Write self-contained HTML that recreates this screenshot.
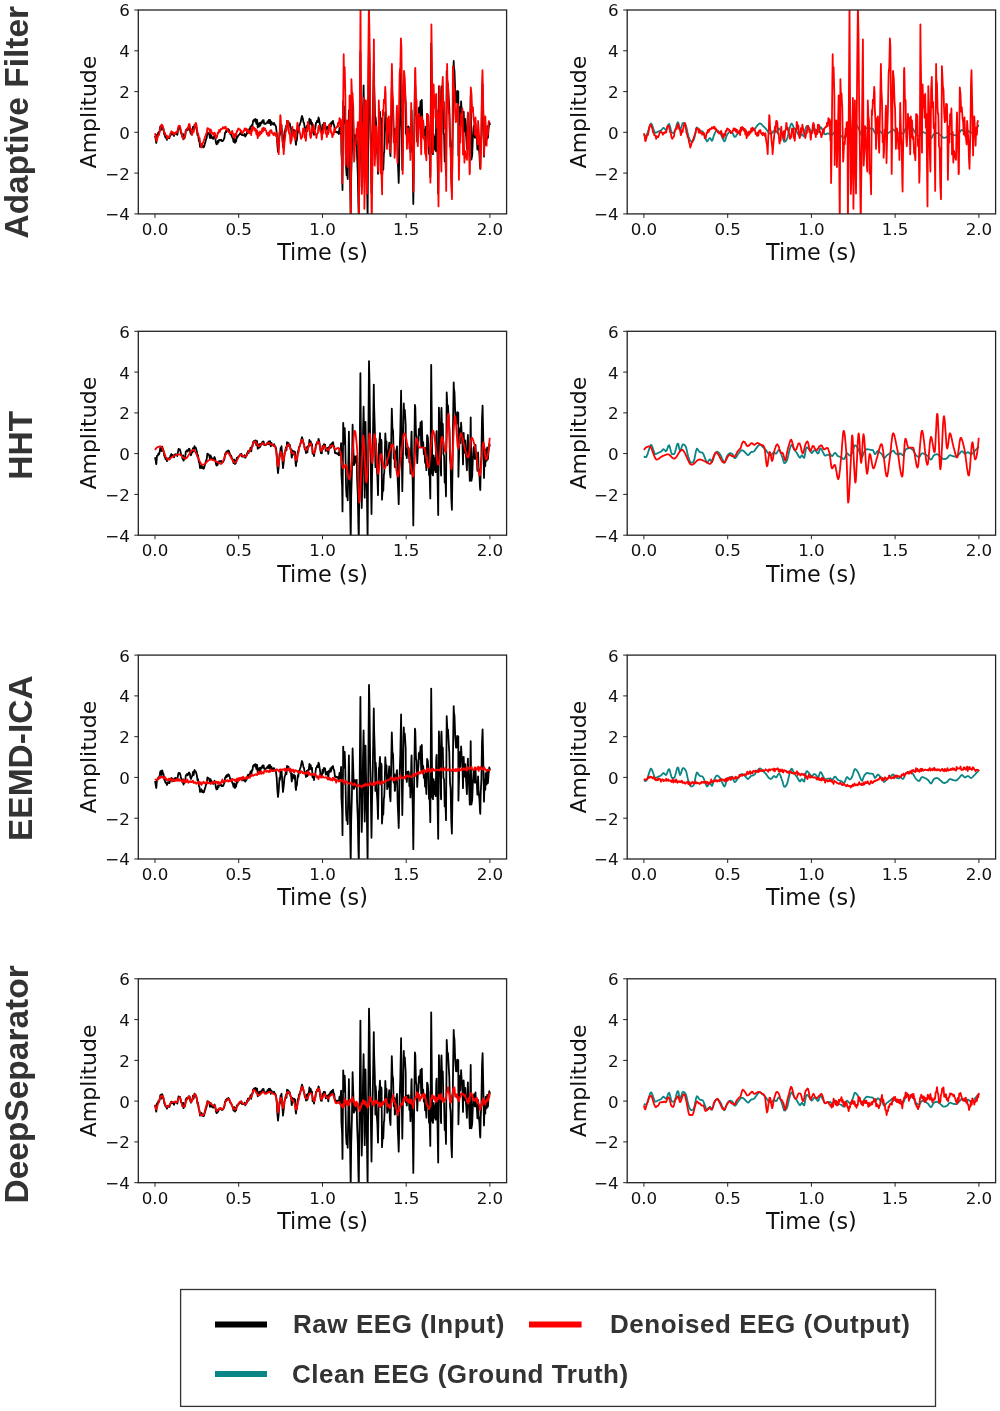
<!DOCTYPE html>
<html><head><meta charset="utf-8"><style>
html,body{margin:0;padding:0;background:#fff;}
svg{display:block;}
.tk{font-family:"DejaVu Sans",sans-serif;font-size:16.7px;fill:#111;}
.lb{font-family:"DejaVu Sans",sans-serif;font-size:22.3px;fill:#111;}
.lb2{font-family:"DejaVu Sans",sans-serif;font-size:22px;fill:#111;}
.tt{font-family:"Liberation Sans",sans-serif;font-weight:bold;font-size:33.5px;fill:#333;}
.lg{font-family:"Liberation Sans",sans-serif;font-weight:bold;font-size:26px;fill:#333;letter-spacing:0.55px;}
</style></head><body>
<svg width="1000" height="1411" viewBox="0 0 1000 1411">
<rect width="1000" height="1411" fill="#fff"/>
<defs><clipPath id="cp00"><rect x="138.3" y="10.0" width="368.3" height="203.9"/></clipPath></defs>
<g clip-path="url(#cp00)">
<polyline points="155.0,135.9 155.7,139.3 156.0,141.9 156.3,142.9 157.0,134.6 157.7,134.4 158.0,133.9 158.3,132.3 159.0,133.1 159.6,131.0 160.3,126.4 161.0,125.9 161.6,129.9 162.2,125.4 163.0,127.9 163.5,129.1 164.2,134.2 165.0,135.9 165.5,137.7 166.2,137.4 167.0,139.9 167.5,138.3 168.1,136.9 168.8,137.9 169.4,138.1 170.0,135.9 170.7,133.9 171.4,132.8 172.0,134.6 172.7,133.7 173.0,133.9 173.4,134.3 174.0,136.0 174.7,133.3 175.3,132.8 176.0,133.7 176.6,133.2 177.0,132.9 177.3,134.9 177.9,130.9 178.6,127.7 179.2,128.4 179.5,127.9 179.9,128.1 180.5,130.2 181.2,133.8 181.9,134.3 182.5,137.6 183.2,134.2 183.5,139.4 183.8,138.1 184.5,138.0 185.1,136.7 185.8,130.4 186.4,129.7 187.0,128.9 187.7,130.2 188.4,128.6 189.0,127.4 189.7,128.0 190.4,132.5 191.0,133.9 191.7,131.4 192.3,130.9 193.0,126.9 193.6,130.1 194.5,124.9 194.9,126.5 195.6,126.1 196.2,127.8 196.9,130.5 197.5,135.2 198.0,133.9 198.9,141.0 199.5,141.9 200.0,146.9 200.8,146.0 201.5,144.2 202.1,146.9 202.8,145.8 203.4,147.4 204.0,146.9 204.7,144.2 205.4,141.9 206.0,139.6 206.7,137.9 207.4,132.4 208.0,132.9 208.7,133.1 209.3,134.6 210.0,138.0 210.6,134.1 211.0,135.9 211.3,135.6 211.9,138.1 212.6,137.4 213.2,138.9 214.0,136.9 214.5,135.7 215.2,137.5 215.9,142.4 216.5,144.3 217.2,142.4 217.5,143.9 217.8,140.9 218.5,142.2 219.1,139.8 220.0,139.9 220.4,140.2 221.1,139.6 221.7,141.0 222.4,141.0 223.0,140.9 223.7,139.4 224.4,137.8 225.0,133.1 225.7,131.6 226.0,130.9 226.3,132.2 227.0,129.9 227.6,131.1 228.3,129.2 229.0,129.9 229.6,131.7 230.2,133.9 230.9,134.0 231.6,135.9 232.0,136.9 232.9,138.7 233.5,141.8 234.2,138.3 235.0,142.9 235.5,139.4 236.1,141.5 236.8,136.7 237.4,137.5 238.0,135.9 238.7,135.1 239.4,134.6 240.1,133.1 240.7,134.1 241.0,132.9 241.4,132.5 242.0,135.2 242.7,135.2 243.3,135.3 244.0,135.3 244.6,133.9 245.0,135.9 245.0,135.9 245.3,136.5 245.9,135.3 246.6,134.3 247.0,131.9 247.2,133.4 247.9,129.8 248.6,131.8 249.2,129.2 250.0,128.9 250.5,126.3 251.2,130.1 252.0,124.9 252.5,125.1 253.1,120.8 254.0,119.9 254.4,119.4 255.1,121.4 255.7,119.0 256.0,121.9 256.4,123.9 257.1,119.8 257.7,127.5 258.0,124.9 258.4,123.3 259.0,126.5 259.7,122.8 260.0,123.9 260.3,125.5 261.0,122.3 261.6,123.3 262.5,120.4 262.9,122.3 263.6,120.2 264.2,123.8 265.0,123.9 265.6,123.8 266.2,123.1 267.0,122.9 267.5,121.3 268.2,122.9 268.8,120.0 269.5,123.1 270.0,119.9 270.8,125.1 271.4,121.6 272.0,123.9 272.8,123.5 273.4,124.6 274.0,122.9 274.7,124.6 275.4,125.4 276.0,126.9 276.7,132.8 277.3,144.1 278.0,151.9 278.6,146.6 279.5,132.9 279.9,134.9 280.6,126.6 281.3,130.0 281.5,124.9 281.9,130.5 282.6,141.1 283.0,146.9 283.9,139.1 284.5,131.9 285.2,130.2 286.0,125.9 286.5,129.0 287.0,120.9 287.8,124.2 288.4,121.5 289.0,124.9 289.8,123.5 290.4,127.4 291.0,127.9 291.7,136.4 292.0,134.9 292.4,129.0 293.0,132.6 293.7,130.4 294.0,129.9 294.3,133.8 295.0,130.6 295.6,142.3 296.0,144.9 296.3,141.3 296.9,140.0 297.6,132.1 298.0,129.9 298.3,131.9 298.9,125.8 299.6,125.2 300.0,123.9 300.9,121.1 301.5,117.7 302.0,115.9 302.8,118.5 303.5,122.2 304.0,122.9 304.8,128.1 305.4,128.4 306.0,131.9 306.8,125.8 307.4,131.1 308.0,124.9 308.7,125.5 309.4,118.7 310.0,123.7 310.7,120.0 311.0,121.9 311.3,124.4 312.0,122.8 312.6,132.3 313.3,131.3 314.0,134.9 314.6,130.7 315.3,128.6 316.0,122.9 316.6,122.6 317.2,120.6 317.9,122.0 318.5,117.5 319.0,118.9 319.8,124.0 320.5,129.4 321.0,131.9 321.8,132.0 322.5,124.8 323.1,127.7 323.8,123.0 324.0,122.9 324.4,124.2 325.1,123.3 325.7,129.6 326.0,127.9 326.4,127.2 327.0,129.5 327.7,126.6 328.0,129.9 328.3,132.6 329.0,125.5 329.6,127.1 330.0,125.9 330.3,123.4 331.0,126.4 331.6,122.1 332.3,123.0 333.0,120.9 333.6,124.7 334.2,125.2 335.0,131.9 335.5,131.1 336.2,132.2 336.8,131.9 337.5,132.7 338.0,131.9 338.8,134.0 339.5,127.9 340.1,133.7 340.5,133.9 340.8,125.7 341.1,121.8 341.4,152.8 342.1,164.4 342.5,190.1 343.2,101.5 344.0,122.7 344.7,106.8 345.2,120.0 346.1,167.3 346.6,175.3 347.3,170.8 347.7,179.0 348.6,127.5 348.9,110.3 349.3,136.4 349.9,168.2 350.7,217.5 351.2,175.0 351.9,150.7 352.6,103.4 353.2,122.3 353.9,143.8 354.5,142.5 355.1,135.1 355.8,141.1 356.5,135.3 356.7,134.7 357.1,156.8 357.8,173.7 358.4,204.7 358.8,217.5 359.1,185.1 359.7,131.8 360.4,51.8 361.0,125.7 361.7,186.8 362.3,163.5 363.0,112.8 363.6,85.4 364.3,135.3 364.7,176.4 365.0,155.2 365.5,100.6 366.3,147.0 366.9,171.8 367.6,217.5 368.2,132.7 369.0,39.8 369.5,60.6 370.2,119.1 370.8,149.0 371.5,192.7 372.1,152.2 372.8,124.3 373.5,81.5 373.8,63.3 374.1,84.5 374.8,106.6 375.4,145.8 375.6,117.2 376.1,123.5 376.7,145.4 377.4,156.0 378.0,173.8 378.9,122.7 379.3,123.3 380.0,111.8 380.7,138.1 381.3,118.5 381.6,120.9 382.0,178.4 382.6,168.4 383.3,169.4 383.9,152.9 384.2,152.3 384.6,142.5 385.3,112.1 385.9,122.9 386.5,120.2 387.2,144.0 387.9,141.2 388.6,130.1 389.2,121.4 389.8,150.0 390.5,156.2 391.1,126.2 391.8,87.3 392.4,106.3 393.1,109.8 393.7,137.4 394.4,129.2 394.8,145.8 395.0,145.5 395.7,133.2 396.4,129.2 397.0,125.0 397.7,159.0 398.3,171.9 398.7,182.9 399.0,170.6 399.6,129.9 400.3,109.7 401.1,69.3 401.6,118.6 402.3,169.9 402.9,136.5 403.5,92.4 403.8,82.2 404.2,95.7 404.8,88.6 405.7,103.4 405.8,133.4 406.2,130.4 406.8,136.9 407.5,126.9 408.1,131.5 408.4,126.4 408.8,127.2 409.4,141.1 410.1,137.8 410.4,152.3 410.7,142.2 411.4,113.6 411.6,110.3 412.0,134.1 412.7,160.5 413.3,204.1 414.0,149.4 414.9,83.6 415.3,85.8 416.0,113.2 416.6,115.8 417.2,141.8 417.9,127.5 418.6,118.4 418.8,108.4 419.2,107.4 419.9,113.8 420.5,101.2 421.2,124.8 421.8,99.9 422.5,125.9 423.2,120.9 423.8,132.7 424.5,129.9 425.1,141.5 425.8,126.7 426.0,142.5 426.4,148.9 427.1,113.8 427.8,115.8 428.4,124.1 429.0,153.5 429.7,154.9 430.3,177.1 431.2,43.5 431.7,90.9 432.3,152.3 433.0,154.1 433.6,134.1 434.3,149.1 434.9,136.8 435.6,150.9 435.9,143.2 436.2,114.6 436.6,109.8 436.9,136.8 437.5,155.1 438.2,193.7 438.9,86.3 439.5,105.7 440.2,116.5 440.8,149.6 441.1,154.2 441.2,90.9 441.5,86.5 442.1,108.9 442.8,102.6 443.4,132.5 444.1,134.7 444.7,161.3 445.4,156.0 446.0,175.1 446.7,71.1 447.4,85.8 448.0,84.4 448.6,96.0 449.3,107.8 450.0,137.5 450.6,143.1 451.3,176.7 451.9,188.5 452.6,141.9 453.2,91.1 453.7,61.0 453.9,66.5 454.5,71.0 455.2,91.2 456.0,102.5 456.5,102.6 457.2,90.9 457.8,100.6 458.3,91.4 458.4,155.5 459.1,131.7 459.6,107.1 460.4,121.7 461.1,101.4 461.7,111.9 462.4,112.6 462.6,126.9 463.0,143.1 463.7,111.7 464.4,131.5 465.2,119.0 465.7,129.8 466.3,138.3 466.9,149.0 467.6,120.3 467.9,113.5 468.3,128.9 468.9,136.7 469.8,159.5 470.2,127.7 470.7,96.0 471.4,159.5 472.2,155.1 472.9,136.3 473.6,126.6 474.2,125.4 474.8,137.6 475.5,123.6 476.1,137.6 476.8,136.9 477.4,149.5 478.1,131.2 478.6,146.6 479.4,153.7 480.0,166.0 480.3,168.8 480.7,148.2 481.4,134.3 482.0,97.0 482.6,84.3 483.3,117.5 484.0,156.6 484.6,135.5 485.3,144.7 485.7,128.0 486.6,139.6 487.2,126.1 487.9,138.0 488.6,128.7 489.3,122.3 490.0,125.1" fill="none" stroke="#000" stroke-width="1.8" stroke-linejoin="round"/>
<polyline points="154.9,133.2 155.7,135.8 156.3,141.1 156.8,140.8 157.7,137.2 158.3,135.0 159.0,135.0 159.6,132.4 160.3,127.7 160.9,125.7 161.5,124.7 162.2,125.0 162.9,127.1 163.5,128.9 164.2,132.7 164.9,132.6 165.5,135.3 166.2,135.5 166.8,135.6 167.2,138.9 168.1,136.4 168.8,137.1 169.4,137.1 170.1,134.9 170.7,132.7 171.4,131.3 172.0,132.3 172.7,132.1 173.4,133.1 174.0,134.8 174.7,132.8 175.3,132.7 175.8,133.2 176.6,131.7 177.3,132.4 177.9,128.8 178.6,125.9 179.2,126.3 179.6,125.7 179.9,125.9 180.5,128.4 181.2,132.2 181.9,133.3 182.5,136.8 183.4,138.9 183.8,137.5 184.5,137.3 185.1,136.1 185.8,130.7 186.4,130.0 187.1,128.5 187.7,128.9 188.4,126.2 189.1,123.8 189.7,124.8 190.4,129.4 191.0,129.0 191.7,133.4 191.9,135.2 192.3,134.2 193.0,130.1 193.6,132.2 194.3,128.5 194.9,125.8 195.7,122.8 196.2,123.6 196.9,127.3 197.5,132.8 198.2,134.1 198.9,137.6 199.5,137.6 200.2,142.5 200.8,144.1 201.4,147.5 202.1,145.5 202.8,142.7 203.4,142.2 204.1,139.8 204.7,137.9 205.4,136.1 206.0,134.2 206.7,132.9 207.4,128.2 208.1,128.5 208.7,128.6 209.3,129.8 210.0,132.8 210.6,129.4 211.3,130.8 211.9,133.3 212.6,133.1 213.2,134.7 213.8,133.2 214.5,132.6 215.2,134.1 215.9,138.3 216.6,138.0 217.2,135.9 217.8,132.7 218.5,133.0 219.1,130.0 219.5,130.4 219.8,131.9 220.4,129.9 221.1,128.7 221.7,129.4 222.4,128.7 223.1,127.1 223.7,128.3 224.4,128.3 225.2,126.6 225.7,127.0 226.3,129.5 227.0,128.7 227.6,130.9 228.3,130.5 229.0,132.3 229.6,132.8 230.2,133.5 230.9,132.5 231.6,133.0 232.2,130.8 232.8,133.2 233.5,136.7 234.2,134.2 234.7,138.0 235.5,133.9 236.1,135.4 236.8,131.0 237.4,131.3 238.1,128.8 238.5,128.5 238.7,128.7 239.4,129.5 240.1,129.4 240.7,131.5 241.4,130.8 242.0,133.3 242.3,132.3 242.7,132.8 243.3,131.9 244.0,130.7 244.6,128.4 245.3,130.3 246.1,128.5 246.6,130.5 247.2,131.9 247.9,129.5 248.6,133.1 249.2,131.9 249.9,133.2 250.5,130.6 251.2,135.1 251.8,127.6 252.5,130.8 253.1,126.9 253.7,127.5 254.4,128.0 255.1,130.9 255.7,128.8 256.4,134.5 257.1,130.3 257.5,135.2 257.7,138.2 258.4,132.7 259.0,135.9 259.7,131.6 260.3,134.6 261.0,131.3 261.3,131.4 261.6,133.0 262.3,128.3 262.9,131.5 263.6,127.7 264.2,130.2 265.1,128.5 265.6,129.8 266.2,131.0 266.9,134.2 267.5,133.1 267.9,135.2 268.2,135.9 268.8,132.5 269.5,135.5 270.1,130.7 270.8,130.4 271.4,130.2 272.1,133.2 272.8,133.7 273.6,135.2 274.1,132.7 274.7,134.7 275.4,133.7 276.0,136.2 276.5,133.2 277.3,141.9 278.0,144.3 278.7,154.2 279.3,139.0 279.9,127.4 280.3,115.2 280.6,116.5 281.3,129.6 281.9,131.3 282.2,134.2 282.6,140.1 283.2,146.4 283.7,154.2 284.5,142.3 285.2,137.2 286.0,126.6 286.5,131.0 287.1,121.2 287.9,120.9 288.4,123.1 289.1,133.6 289.8,133.3 290.4,141.8 290.7,143.7 291.1,141.0 291.7,140.5 292.4,126.6 292.6,130.4 293.0,132.0 293.7,133.6 294.3,137.7 295.0,131.1 295.5,139.9 296.3,130.8 296.9,128.8 297.4,122.8 297.6,123.0 298.3,129.6 298.9,127.9 299.6,132.2 300.2,133.5 300.9,138.5 301.2,138.9 301.5,136.8 302.2,137.3 303.1,128.5 303.5,131.6 304.1,128.6 304.8,137.8 305.4,137.7 305.9,140.8 306.8,128.6 307.4,130.3 307.8,121.8 308.1,122.5 308.7,128.5 309.4,125.5 310.0,135.3 310.7,138.0 311.3,135.9 312.0,128.1 312.6,132.3 313.5,124.7 313.9,127.9 314.6,129.2 315.3,134.2 315.9,133.9 316.4,138.0 317.2,133.5 317.9,133.2 318.5,126.4 319.2,125.7 319.8,128.0 320.5,132.1 321.1,131.4 321.8,139.6 322.1,138.0 322.5,132.4 323.1,133.2 323.8,125.9 324.3,122.8 325.1,124.6 325.7,133.4 326.4,133.4 326.8,137.1 327.7,130.0 328.3,134.0 329.0,124.9 329.6,124.7 330.3,125.4 331.0,132.6 331.6,132.0 332.3,137.0 332.5,137.1 332.9,134.2 333.6,134.6 334.2,129.3 334.9,132.0 335.3,128.5 336.2,127.8 336.8,126.7 337.5,126.9 338.1,122.6 338.8,126.0 339.5,118.1 340.1,123.1 340.8,119.3 341.4,140.3 341.6,121.1 342.1,183.1 342.7,144.9 343.4,82.6 343.7,54.2 344.0,78.8 344.7,67.1 345.4,96.9 345.7,165.0 346.0,145.0 346.6,143.5 347.2,120.3 347.9,167.0 348.6,138.8 349.3,117.0 349.6,95.4 349.9,120.0 350.6,196.1 350.8,224.1 351.4,79.1 351.9,92.3 352.5,93.2 353.3,108.1 353.8,140.5 354.1,161.7 354.5,157.8 355.1,142.3 355.8,144.1 356.6,128.7 357.1,136.4 357.8,122.4 358.5,122.1 358.9,224.1 359.7,126.5 360.5,3.9 361.0,91.1 361.8,193.9 362.3,181.6 363.0,131.4 363.6,114.9 363.9,97.9 364.4,208.8 365.0,177.2 365.6,120.9 365.9,100.5 366.3,133.0 367.0,193.5 367.6,148.0 368.2,67.0 368.9,3.9 369.5,34.1 370.2,108.2 370.8,145.4 371.5,207.7 371.8,224.1 372.1,190.4 372.8,145.1 373.5,80.7 373.9,39.4 374.7,165.6 375.4,150.4 376.2,126.2 376.7,140.0 377.4,148.0 378.0,168.1 378.3,171.5 378.8,100.5 379.3,116.0 380.0,120.4 380.7,173.5 381.3,167.3 382.1,194.3 382.8,110.1 383.3,115.1 383.9,99.6 384.6,103.0 385.2,86.9 385.6,92.8 385.9,108.3 386.5,121.6 387.0,148.9 387.8,118.3 388.5,133.0 388.9,116.4 389.8,145.4 390.2,152.7 391.1,108.4 391.9,64.0 392.4,90.4 393.1,100.8 393.7,142.2 394.4,137.5 394.6,157.8 395.0,152.0 395.7,129.8 396.3,128.4 396.7,110.9 397.0,105.7 397.5,163.1 398.3,130.9 399.0,111.3 399.6,74.4 400.0,68.7 400.3,69.0 400.9,38.5 401.4,46.7 402.2,119.3 402.7,173.9 403.5,102.9 404.0,70.8 404.8,78.5 405.5,100.9 406.1,108.7 406.9,148.9 407.5,136.2 408.0,128.3 408.8,133.3 409.4,148.6 410.1,142.0 410.4,159.9 410.7,139.7 411.2,103.0 412.0,135.5 412.7,146.8 413.3,181.3 413.6,191.5 414.0,156.2 414.7,121.3 415.0,71.2 415.3,67.9 416.0,100.0 416.6,100.2 417.3,136.4 417.8,146.2 418.6,131.7 419.0,113.8 419.9,127.9 420.5,117.9 421.2,154.3 421.4,145.0 421.8,116.4 422.5,137.2 423.0,120.3 423.8,138.9 424.5,136.8 425.1,153.3 425.9,155.4 426.4,160.3 427.1,114.1 427.8,114.6 428.4,116.6 429.0,146.1 429.7,139.6 430.4,182.7 430.7,168.8 431.0,108.6 431.4,24.5 431.7,46.4 432.3,94.5 433.0,152.7 433.2,102.4 433.6,84.3 434.3,107.5 434.9,95.6 435.6,117.6 436.2,93.8 436.9,127.8 437.4,113.8 438.2,183.4 438.5,206.4 438.9,155.9 439.3,86.1 440.2,109.7 440.8,153.1 441.4,171.5 442.1,90.3 442.8,76.9 443.4,107.3 444.1,102.1 444.7,128.2 445.4,124.2 446.2,190.9 446.7,114.2 447.1,64.0 447.4,78.8 448.0,83.8 448.7,109.1 448.9,113.8 449.3,113.7 450.0,146.3 450.6,147.8 451.3,185.6 452.0,199.2 452.6,120.5 452.9,66.1 453.2,72.2 453.9,86.6 454.5,89.8 455.2,113.4 455.8,122.1 456.5,120.1 457.2,103.8 458.0,104.4 458.5,138.0 458.9,179.8 459.8,132.7 460.0,126.2 460.4,142.5 461.1,114.1 461.7,125.2 462.4,108.4 462.8,123.2 463.0,154.6 463.4,146.2 463.7,132.0 464.4,162.6 465.0,150.8 465.7,157.5 466.3,156.1 467.0,159.9 467.6,125.9 468.0,112.4 468.3,129.9 468.9,140.1 469.6,174.2 469.9,172.7 470.2,140.1 470.8,87.5 471.5,94.3 472.2,111.6 472.9,107.2 473.5,117.4 474.1,122.1 474.8,134.4 475.5,117.3 476.1,136.0 476.8,135.8 477.6,144.4 478.1,121.0 478.7,130.3 479.4,140.6 480.0,159.6 480.5,168.8 481.4,132.5 482.0,83.3 482.5,70.2 483.3,109.0 484.1,155.4 484.6,124.2 485.3,116.4 485.9,129.9 486.6,145.6 487.2,127.6 487.9,134.8 488.6,122.5 489.0,120.3" fill="none" stroke="#f00" stroke-width="1.8" stroke-linejoin="round"/>
</g>
<rect x="138.3" y="10.0" width="368.3" height="203.9" fill="none" stroke="#222" stroke-width="1.3"/>
<line x1="134.3" y1="213.9" x2="138.3" y2="213.9" stroke="#222" stroke-width="1"/>
<text x="129.8" y="220.3" text-anchor="end" class="tk">−4</text>
<line x1="134.3" y1="173.1" x2="138.3" y2="173.1" stroke="#222" stroke-width="1"/>
<text x="129.8" y="179.5" text-anchor="end" class="tk">−2</text>
<line x1="134.3" y1="132.3" x2="138.3" y2="132.3" stroke="#222" stroke-width="1"/>
<text x="129.8" y="138.7" text-anchor="end" class="tk">0</text>
<line x1="134.3" y1="91.6" x2="138.3" y2="91.6" stroke="#222" stroke-width="1"/>
<text x="129.8" y="98.0" text-anchor="end" class="tk">2</text>
<line x1="134.3" y1="50.8" x2="138.3" y2="50.8" stroke="#222" stroke-width="1"/>
<text x="129.8" y="57.2" text-anchor="end" class="tk">4</text>
<line x1="134.3" y1="10.0" x2="138.3" y2="10.0" stroke="#222" stroke-width="1"/>
<text x="129.8" y="16.4" text-anchor="end" class="tk">6</text>
<line x1="155.0" y1="213.9" x2="155.0" y2="217.9" stroke="#222" stroke-width="1"/>
<text x="155.0" y="234.9" text-anchor="middle" class="tk">0.0</text>
<line x1="238.7" y1="213.9" x2="238.7" y2="217.9" stroke="#222" stroke-width="1"/>
<text x="238.7" y="234.9" text-anchor="middle" class="tk">0.5</text>
<line x1="322.5" y1="213.9" x2="322.5" y2="217.9" stroke="#222" stroke-width="1"/>
<text x="322.5" y="234.9" text-anchor="middle" class="tk">1.0</text>
<line x1="406.2" y1="213.9" x2="406.2" y2="217.9" stroke="#222" stroke-width="1"/>
<text x="406.2" y="234.9" text-anchor="middle" class="tk">1.5</text>
<line x1="489.9" y1="213.9" x2="489.9" y2="217.9" stroke="#222" stroke-width="1"/>
<text x="489.9" y="234.9" text-anchor="middle" class="tk">2.0</text>
<text x="322.5" y="260.3" text-anchor="middle" class="lb">Time (s)</text>
<text transform="translate(96.3,112.0) rotate(-90)" text-anchor="middle" class="lb2">Amplitude</text>
<defs><clipPath id="cp01"><rect x="627.2" y="10.0" width="368.4" height="203.9"/></clipPath></defs>
<g clip-path="url(#cp01)">
<polyline points="644.0,134.9 644.8,135.7 645.7,135.9 646.5,135.4 647.4,133.4 648.2,130.7 649.0,128.3 649.9,125.5 650.7,123.6 651.5,123.9 652.4,125.8 653.2,128.2 654.1,130.7 654.9,132.9 655.7,132.8 656.6,132.4 657.4,131.9 658.3,131.5 659.1,131.2 659.9,130.9 660.8,130.5 661.6,129.8 662.5,128.7 663.3,127.9 664.1,128.2 665.0,129.2 665.8,129.9 666.7,129.2 667.5,126.9 668.3,124.6 669.2,124.0 670.0,126.3 670.9,130.0 671.7,132.6 672.5,132.9 673.4,132.9 674.2,132.8 675.0,131.0 675.9,127.9 676.7,124.5 677.6,122.3 678.4,122.8 679.2,127.4 680.1,129.9 680.9,128.3 681.8,125.5 682.6,123.2 683.4,123.0 684.3,123.5 685.1,124.4 686.0,125.8 686.8,128.9 687.6,132.8 688.5,136.3 689.3,138.7 690.2,140.5 691.0,141.4 691.8,141.3 692.7,140.9 693.5,140.4 694.4,138.1 695.2,133.9 696.0,129.7 696.9,127.4 697.7,127.9 698.5,129.1 699.4,130.4 700.2,131.0 701.1,131.1 701.9,131.2 702.7,131.6 703.6,133.1 704.4,135.4 705.3,137.6 706.1,140.0 706.9,141.4 707.8,140.8 708.6,139.4 709.5,138.2 710.3,138.1 711.1,139.7 712.0,140.9 712.8,139.1 713.7,135.9 714.5,133.9 715.3,132.2 716.2,130.9 717.0,130.4 717.8,130.7 718.7,131.4 719.5,132.3 720.4,133.5 721.2,135.2 722.0,137.0 722.9,138.9 723.7,140.7 724.6,141.4 725.4,139.8 726.2,136.9 727.1,134.8 727.9,133.6 728.8,132.6 729.6,132.0 730.4,131.9 731.3,132.2 732.1,132.6 733.0,133.6 733.8,135.9 734.6,136.9 735.5,136.7 736.3,135.6 737.2,134.2 738.0,132.9 738.8,131.9 739.7,130.7 740.5,129.8 741.3,129.1 742.2,128.9 743.0,129.3 743.9,129.9 744.7,130.7 745.5,131.5 746.4,132.5 747.2,133.5 748.1,133.9 748.9,133.3 749.7,132.3 750.6,131.2 751.4,130.7 752.3,130.5 753.1,130.3 753.9,129.9 754.8,129.2 755.6,127.9 756.5,126.6 757.3,125.6 758.1,124.6 759.0,123.8 759.8,123.4 760.7,123.6 761.5,124.3 762.3,125.2 763.2,126.1 764.0,126.8 764.8,127.7 765.7,128.5 766.5,129.6 767.4,130.9 768.2,132.1 769.0,132.9 769.9,133.5 770.7,133.9 771.6,133.6 772.4,132.5 773.2,131.4 774.1,130.9 774.9,131.6 775.8,132.3 776.6,132.0 777.4,130.5 778.3,129.0 779.1,128.4 780.0,129.4 780.8,131.5 781.6,133.9 782.5,136.3 783.3,139.4 784.1,141.6 785.0,141.7 785.8,140.9 786.7,139.5 787.5,137.5 788.3,133.9 789.2,130.0 790.0,127.0 790.9,124.3 791.7,123.5 792.5,124.7 793.4,126.7 794.2,128.2 795.1,129.4 795.9,130.5 796.7,131.5 797.6,132.9 798.4,134.5 799.3,135.9 800.1,136.4 800.9,135.3 801.8,134.0 802.6,134.6 803.5,136.3 804.3,136.5 805.1,132.2 806.0,127.2 806.8,126.0 807.6,126.5 808.5,127.4 809.3,128.3 810.2,129.7 811.0,131.1 811.8,131.9 812.7,131.1 813.5,129.3 814.4,128.9 815.2,129.3 816.0,129.9 816.9,131.1 817.7,132.3 818.6,131.7 819.4,129.2 820.2,127.1 821.1,127.3 821.9,128.7 822.8,130.5 823.6,132.1 824.4,133.9 825.3,134.4 826.1,134.1 827.0,133.7 827.8,133.4 828.6,133.6 829.5,133.9 830.3,133.0 831.1,134.1 832.0,134.9 832.8,134.3 833.7,132.9 834.5,131.7 835.3,131.5 836.2,132.5 837.0,133.8 837.9,134.8 838.7,135.2 839.5,135.4 840.4,135.7 841.2,136.0 842.1,136.7 842.9,137.4 843.7,137.9 844.6,137.3 845.4,135.2 846.3,132.8 847.1,131.9 847.9,132.5 848.8,133.5 849.6,134.3 850.4,134.2 851.3,133.1 852.1,131.7 853.0,129.2 853.8,126.2 854.6,124.1 855.5,124.0 856.3,124.8 857.2,125.9 858.0,127.2 858.8,129.1 859.7,131.2 860.5,133.2 861.4,135.2 862.2,135.8 863.0,133.6 863.9,131.1 864.7,129.9 865.6,128.8 866.4,128.1 867.2,127.9 868.1,128.0 868.9,128.2 869.8,128.4 870.6,128.5 871.4,128.6 872.3,128.7 873.1,129.0 873.9,130.8 874.8,132.8 875.6,132.5 876.5,131.2 877.3,129.9 878.1,129.4 879.0,130.2 879.8,131.2 880.7,131.9 881.5,132.4 882.3,133.5 883.2,135.6 884.0,136.9 884.9,136.4 885.7,135.4 886.5,134.4 887.4,133.6 888.2,133.1 889.1,132.5 889.9,132.0 890.7,131.2 891.6,130.3 892.4,129.6 893.3,129.4 894.1,130.2 894.9,131.3 895.8,132.2 896.6,132.7 897.4,133.1 898.3,133.3 899.1,133.3 900.0,131.9 900.8,132.3 901.6,133.0 902.5,133.7 903.3,133.7 904.2,132.0 905.0,129.7 905.8,128.0 906.7,127.6 907.5,127.3 908.4,127.1 909.2,126.9 910.0,126.9 910.9,127.1 911.7,127.7 912.6,128.5 913.4,129.4 914.2,130.9 915.1,132.5 915.9,133.8 916.8,134.6 917.6,135.3 918.4,135.8 919.3,135.8 920.1,134.7 920.9,133.0 921.8,132.0 922.6,132.0 923.5,132.2 924.3,132.6 925.1,133.0 926.0,133.4 926.8,134.0 927.7,134.6 928.5,135.4 929.3,136.7 930.2,137.9 931.0,138.4 931.9,137.6 932.7,135.9 933.5,134.4 934.4,133.7 935.2,133.3 936.1,133.0 936.9,132.9 937.7,133.1 938.6,133.7 939.4,134.4 940.2,135.1 941.1,135.8 941.9,136.7 942.8,137.4 943.6,137.8 944.4,137.9 945.3,137.7 946.1,137.3 947.0,136.9 947.8,136.2 948.6,135.0 949.5,134.1 950.3,133.9 951.2,134.2 952.0,134.5 952.8,134.9 953.7,135.1 954.5,135.2 955.4,135.4 956.2,135.4 957.0,134.9 957.9,134.1 958.7,133.2 959.6,132.3 960.4,131.2 961.2,130.3 962.1,129.9 962.9,130.4 963.7,131.5 964.6,132.3 965.4,132.3 966.3,131.8 967.1,131.2 967.9,130.9 968.8,131.2 969.6,132.0 970.5,132.7 971.3,132.9 972.1,132.3 973.0,131.5 973.8,130.6 974.7,129.8 975.5,128.9 976.3,128.0 977.2,127.1 978.0,126.1 978.9,125.1" fill="none" stroke="#0a8585" stroke-width="1.8" stroke-linejoin="round"/>
<polyline points="643.8,133.2 644.6,135.8 645.3,141.1 645.7,140.8 646.6,137.2 647.2,135.0 647.9,135.0 648.5,132.4 649.2,127.7 649.8,125.7 650.4,124.7 651.1,125.0 651.8,127.1 652.4,128.9 653.1,132.7 653.8,132.6 654.4,135.3 655.1,135.5 655.7,135.6 656.1,138.9 657.0,136.4 657.7,137.1 658.3,137.1 659.0,134.9 659.6,132.7 660.3,131.3 660.9,132.3 661.6,132.1 662.3,133.1 662.9,134.8 663.6,132.8 664.2,132.7 664.7,133.2 665.5,131.7 666.2,132.4 666.8,128.8 667.5,125.9 668.1,126.3 668.5,125.7 668.8,125.9 669.5,128.4 670.1,132.2 670.8,133.3 671.4,136.8 672.3,138.9 672.7,137.5 673.4,137.3 674.0,136.1 674.7,130.7 675.3,130.0 676.0,128.5 676.7,128.9 677.3,126.2 678.0,123.8 678.6,124.8 679.3,129.4 679.9,129.0 680.6,133.4 680.8,135.2 681.2,134.2 681.9,130.1 682.5,132.2 683.2,128.5 683.8,125.8 684.6,122.8 685.2,123.6 685.8,127.3 686.5,132.8 687.1,134.1 687.8,137.6 688.4,137.6 689.1,142.5 689.7,144.1 690.3,147.5 691.0,145.5 691.7,142.7 692.4,142.2 693.0,139.8 693.7,137.9 694.3,136.1 695.0,134.2 695.6,132.9 696.3,128.2 697.0,128.5 697.6,128.6 698.2,129.8 698.9,132.8 699.5,129.4 700.2,130.8 700.9,133.3 701.5,133.1 702.2,134.7 702.7,133.2 703.5,132.6 704.1,134.1 704.8,138.3 705.5,138.0 706.1,135.9 706.7,132.7 707.4,133.0 708.0,130.0 708.4,130.4 708.7,131.9 709.4,129.9 710.0,128.7 710.7,129.4 711.3,128.7 712.0,127.1 712.6,128.3 713.3,128.3 714.1,126.6 714.6,127.0 715.2,129.5 715.9,128.7 716.6,130.9 717.2,130.5 717.9,132.3 718.5,132.8 719.2,133.5 719.8,132.5 720.5,133.0 721.1,130.8 721.7,133.2 722.4,136.7 723.1,134.2 723.6,138.0 724.4,133.9 725.1,135.4 725.7,131.0 726.4,131.3 727.0,128.8 727.4,128.5 727.7,128.7 728.3,129.5 729.0,129.4 729.6,131.5 730.3,130.8 730.9,133.3 731.2,132.3 731.6,132.8 732.3,131.9 732.9,130.7 733.6,128.4 734.2,130.3 735.0,128.5 735.5,130.5 736.2,131.9 736.8,129.5 737.5,133.1 738.1,131.9 738.8,133.2 739.4,130.6 740.1,135.1 740.8,127.6 741.4,130.8 742.1,126.9 742.6,127.5 743.4,128.0 744.0,130.9 744.7,128.8 745.3,134.5 746.0,130.3 746.4,135.2 746.6,138.2 747.3,132.7 748.0,135.9 748.6,131.6 749.3,134.6 749.9,131.3 750.2,131.4 750.6,133.0 751.2,128.3 751.9,131.5 752.5,127.7 753.2,130.2 754.0,128.5 754.5,129.8 755.1,131.0 755.8,134.2 756.5,133.1 756.8,135.2 757.1,135.9 757.8,132.5 758.4,135.5 759.1,130.7 759.7,130.4 760.4,130.2 761.0,133.2 761.7,133.7 762.5,135.2 763.0,132.7 763.6,134.7 764.3,133.7 765.0,136.2 765.4,133.2 766.3,141.9 766.9,144.3 767.7,154.2 768.2,139.0 768.9,127.4 769.2,115.2 769.5,116.5 770.2,129.6 770.8,131.3 771.1,134.2 771.5,140.1 772.2,146.4 772.6,154.2 773.5,142.3 774.1,137.2 774.9,126.6 775.4,131.0 776.1,121.2 776.8,120.9 777.4,123.1 778.0,133.6 778.7,133.3 779.3,141.8 779.6,143.7 780.0,141.0 780.7,140.5 781.3,126.6 781.5,130.4 782.0,132.0 782.6,133.6 783.3,137.7 783.9,131.1 784.4,139.9 785.2,130.8 785.9,128.8 786.3,122.8 786.5,123.0 787.2,129.6 787.9,127.9 788.5,132.2 789.2,133.5 789.8,138.5 790.1,138.9 790.5,136.8 791.1,137.3 792.0,128.5 792.4,131.6 793.1,128.6 793.7,137.8 794.4,137.7 794.8,140.8 795.7,128.6 796.4,130.3 796.7,121.8 797.0,122.5 797.7,128.5 798.3,125.5 799.0,135.3 799.6,138.0 800.3,135.9 800.9,128.1 801.6,132.3 802.4,124.7 802.9,127.9 803.6,129.2 804.2,134.2 804.9,133.9 805.3,138.0 806.2,133.5 806.8,133.2 807.5,126.4 808.1,125.7 808.8,128.0 809.4,132.1 810.1,131.4 810.7,139.6 811.0,138.0 811.4,132.4 812.1,133.2 812.7,125.9 813.3,122.8 814.0,124.6 814.7,133.4 815.3,133.4 815.8,137.1 816.6,130.0 817.3,134.0 817.9,124.9 818.6,124.7 819.2,125.4 819.9,132.6 820.6,132.0 821.2,137.0 821.5,137.1 821.9,134.2 822.5,134.6 823.2,129.3 823.8,132.0 824.3,128.5 825.1,127.8 825.8,126.7 826.4,126.9 827.1,122.6 827.8,126.0 828.4,118.1 829.1,123.1 829.7,119.3 830.4,140.3 830.6,121.1 831.1,183.1 831.7,144.9 832.3,82.6 832.7,54.2 833.0,78.8 833.6,67.1 834.4,96.9 834.7,165.0 834.9,145.0 835.6,143.5 836.2,120.3 836.9,167.0 837.6,138.8 838.2,117.0 838.6,95.4 838.9,120.0 839.5,196.1 839.8,224.1 840.4,79.1 840.8,92.3 841.5,93.2 842.3,108.1 842.8,140.5 843.1,161.7 843.5,157.8 844.1,142.3 844.8,144.1 845.6,128.7 846.1,136.4 846.7,122.4 847.5,122.1 847.9,224.1 848.7,126.5 849.5,3.9 850.0,91.1 850.8,193.9 851.3,181.6 852.0,131.4 852.6,114.9 852.9,97.9 853.4,208.8 853.9,177.2 854.6,120.9 854.9,100.5 855.2,133.0 856.0,193.5 856.5,148.0 857.2,67.0 857.9,3.9 858.5,34.1 859.2,108.2 859.8,145.4 860.5,207.7 860.8,224.1 861.1,190.4 861.8,145.1 862.4,80.7 862.9,39.4 863.7,165.6 864.4,150.4 865.2,126.2 865.7,140.0 866.3,148.0 867.0,168.1 867.3,171.5 867.8,100.5 868.3,116.0 869.0,120.4 869.6,173.5 870.3,167.3 871.1,194.3 871.8,110.1 872.2,115.1 872.9,99.6 873.5,103.0 874.2,86.9 874.6,92.8 874.8,108.3 875.5,121.6 876.0,148.9 876.8,118.3 877.5,133.0 877.9,116.4 878.8,145.4 879.2,152.7 880.1,108.4 880.9,64.0 881.4,90.4 882.0,100.8 882.7,142.2 883.4,137.5 883.6,157.8 884.0,152.0 884.7,129.8 885.3,128.4 885.7,110.9 886.0,105.7 886.5,163.1 887.3,130.9 887.9,111.3 888.6,74.4 889.0,68.7 889.2,69.0 889.9,38.5 890.4,46.7 891.2,119.3 891.7,173.9 892.5,102.9 893.0,70.8 893.8,78.5 894.5,100.9 895.1,108.7 895.9,148.9 896.4,136.2 897.0,128.3 897.7,133.3 898.4,148.6 899.1,142.0 899.4,159.9 899.7,139.7 900.2,103.0 901.0,135.5 901.7,146.8 902.3,181.3 902.6,191.5 903.0,156.2 903.6,121.3 904.0,71.2 904.3,67.9 904.9,100.0 905.6,100.2 906.2,136.4 906.8,146.2 907.6,131.7 908.0,113.8 908.9,127.9 909.5,117.9 910.2,154.3 910.4,145.0 910.8,116.4 911.5,137.2 912.0,120.3 912.8,138.9 913.4,136.8 914.1,153.3 914.9,155.4 915.4,160.3 916.1,114.1 916.8,114.6 917.4,116.6 918.0,146.1 918.7,139.6 919.3,182.7 919.7,168.8 920.0,108.6 920.4,24.5 920.6,46.4 921.3,94.5 922.0,152.7 922.2,102.4 922.6,84.3 923.3,107.5 923.9,95.6 924.6,117.6 925.2,93.8 925.9,127.8 926.4,113.8 927.2,183.4 927.5,206.4 927.8,155.9 928.3,86.1 929.1,109.7 929.8,153.1 930.4,171.5 931.1,90.3 931.8,76.9 932.4,107.3 933.1,102.1 933.7,128.2 934.4,124.2 935.2,190.9 935.7,114.2 936.1,64.0 936.3,78.8 937.0,83.8 937.6,109.1 937.9,113.8 938.3,113.7 939.0,146.3 939.6,147.8 940.3,185.6 941.0,199.2 941.6,120.5 941.9,66.1 942.2,72.2 942.9,86.6 943.5,89.8 944.2,113.4 944.8,122.1 945.5,120.1 946.1,103.8 947.0,104.4 947.5,138.0 947.9,179.8 948.8,132.7 949.0,126.2 949.4,142.5 950.1,114.1 950.7,125.2 951.4,108.4 951.8,123.2 952.0,154.6 952.4,146.2 952.7,132.0 953.3,162.6 954.0,150.8 954.7,157.5 955.3,156.1 956.0,159.9 956.6,125.9 957.0,112.4 957.3,129.9 957.9,140.1 958.6,174.2 958.9,172.7 959.2,140.1 959.8,87.5 960.5,94.3 961.2,111.6 961.8,107.2 962.5,117.4 963.1,122.1 963.8,134.4 964.5,117.3 965.1,136.0 965.8,135.8 966.6,144.4 967.1,121.0 967.7,130.3 968.4,140.6 969.0,159.6 969.5,168.8 970.4,132.5 971.0,83.3 971.5,70.2 972.3,109.0 973.1,155.4 973.6,124.2 974.3,116.4 974.9,129.9 975.6,145.6 976.2,127.6 976.9,134.8 977.5,122.5 978.0,120.3" fill="none" stroke="#f00" stroke-width="1.8" stroke-linejoin="round"/>
</g>
<rect x="627.2" y="10.0" width="368.4" height="203.9" fill="none" stroke="#222" stroke-width="1.3"/>
<line x1="623.2" y1="213.9" x2="627.2" y2="213.9" stroke="#222" stroke-width="1"/>
<text x="618.7" y="220.3" text-anchor="end" class="tk">−4</text>
<line x1="623.2" y1="173.1" x2="627.2" y2="173.1" stroke="#222" stroke-width="1"/>
<text x="618.7" y="179.5" text-anchor="end" class="tk">−2</text>
<line x1="623.2" y1="132.3" x2="627.2" y2="132.3" stroke="#222" stroke-width="1"/>
<text x="618.7" y="138.7" text-anchor="end" class="tk">0</text>
<line x1="623.2" y1="91.6" x2="627.2" y2="91.6" stroke="#222" stroke-width="1"/>
<text x="618.7" y="98.0" text-anchor="end" class="tk">2</text>
<line x1="623.2" y1="50.8" x2="627.2" y2="50.8" stroke="#222" stroke-width="1"/>
<text x="618.7" y="57.2" text-anchor="end" class="tk">4</text>
<line x1="623.2" y1="10.0" x2="627.2" y2="10.0" stroke="#222" stroke-width="1"/>
<text x="618.7" y="16.4" text-anchor="end" class="tk">6</text>
<line x1="643.9" y1="213.9" x2="643.9" y2="217.9" stroke="#222" stroke-width="1"/>
<text x="643.9" y="234.9" text-anchor="middle" class="tk">0.0</text>
<line x1="727.7" y1="213.9" x2="727.7" y2="217.9" stroke="#222" stroke-width="1"/>
<text x="727.7" y="234.9" text-anchor="middle" class="tk">0.5</text>
<line x1="811.4" y1="213.9" x2="811.4" y2="217.9" stroke="#222" stroke-width="1"/>
<text x="811.4" y="234.9" text-anchor="middle" class="tk">1.0</text>
<line x1="895.1" y1="213.9" x2="895.1" y2="217.9" stroke="#222" stroke-width="1"/>
<text x="895.1" y="234.9" text-anchor="middle" class="tk">1.5</text>
<line x1="978.9" y1="213.9" x2="978.9" y2="217.9" stroke="#222" stroke-width="1"/>
<text x="978.9" y="234.9" text-anchor="middle" class="tk">2.0</text>
<text x="811.4" y="260.3" text-anchor="middle" class="lb">Time (s)</text>
<text transform="translate(586.0,112.0) rotate(-90)" text-anchor="middle" class="lb2">Amplitude</text>
<defs><clipPath id="cp10"><rect x="138.3" y="331.3" width="368.3" height="203.9"/></clipPath></defs>
<g clip-path="url(#cp10)">
<polyline points="155.0,457.2 155.7,460.6 156.0,463.2 156.3,464.2 157.0,455.9 157.7,455.7 158.0,455.2 158.3,453.6 159.0,454.4 159.6,452.3 160.3,447.7 161.0,447.2 161.6,451.2 162.2,446.7 163.0,449.2 163.5,450.4 164.2,455.5 165.0,457.2 165.5,459.0 166.2,458.7 167.0,461.2 167.5,459.6 168.1,458.2 168.8,459.2 169.4,459.4 170.0,457.2 170.7,455.2 171.4,454.1 172.0,455.9 172.7,455.0 173.0,455.2 173.4,455.6 174.0,457.3 174.7,454.6 175.3,454.1 176.0,455.0 176.6,454.5 177.0,454.2 177.3,456.2 177.9,452.2 178.6,449.0 179.2,449.7 179.5,449.2 179.9,449.4 180.5,451.5 181.2,455.1 181.9,455.6 182.5,458.9 183.2,455.5 183.5,460.7 183.8,459.4 184.5,459.3 185.1,458.0 185.8,451.7 186.4,451.0 187.0,450.2 187.7,451.5 188.4,449.9 189.0,448.7 189.7,449.3 190.4,453.8 191.0,455.2 191.7,452.7 192.3,452.2 193.0,448.2 193.6,451.4 194.5,446.2 194.9,447.8 195.6,447.4 196.2,449.1 196.9,451.8 197.5,456.5 198.0,455.2 198.9,462.3 199.5,463.2 200.0,468.2 200.8,467.3 201.5,465.5 202.1,468.2 202.8,467.1 203.4,468.7 204.0,468.2 204.7,465.5 205.4,463.2 206.0,460.9 206.7,459.2 207.4,453.7 208.0,454.2 208.7,454.4 209.3,455.9 210.0,459.3 210.6,455.4 211.0,457.2 211.3,456.9 211.9,459.4 212.6,458.7 213.2,460.2 214.0,458.2 214.5,457.0 215.2,458.8 215.9,463.7 216.5,465.6 217.2,463.7 217.5,465.2 217.8,462.2 218.5,463.5 219.1,461.1 220.0,461.2 220.4,461.5 221.1,460.9 221.7,462.3 222.4,462.3 223.0,462.2 223.7,460.7 224.4,459.1 225.0,454.4 225.7,452.9 226.0,452.2 226.3,453.5 227.0,451.2 227.6,452.4 228.3,450.5 229.0,451.2 229.6,453.0 230.2,455.2 230.9,455.3 231.6,457.2 232.0,458.2 232.9,460.0 233.5,463.1 234.2,459.6 235.0,464.2 235.5,460.7 236.1,462.8 236.8,458.0 237.4,458.8 238.0,457.2 238.7,456.4 239.4,455.9 240.1,454.4 240.7,455.4 241.0,454.2 241.4,453.8 242.0,456.5 242.7,456.5 243.3,456.6 244.0,456.6 244.6,455.2 245.0,457.2 245.0,457.2 245.3,457.8 245.9,456.6 246.6,455.6 247.0,453.2 247.2,454.7 247.9,451.1 248.6,453.1 249.2,450.5 250.0,450.2 250.5,447.6 251.2,451.4 252.0,446.2 252.5,446.4 253.1,442.1 254.0,441.2 254.4,440.7 255.1,442.7 255.7,440.3 256.0,443.2 256.4,445.2 257.1,441.1 257.7,448.8 258.0,446.2 258.4,444.6 259.0,447.8 259.7,444.1 260.0,445.2 260.3,446.8 261.0,443.6 261.6,444.6 262.5,441.7 262.9,443.6 263.6,441.5 264.2,445.1 265.0,445.2 265.6,445.1 266.2,444.4 267.0,444.2 267.5,442.6 268.2,444.2 268.8,441.3 269.5,444.4 270.0,441.2 270.8,446.4 271.4,442.9 272.0,445.2 272.8,444.8 273.4,445.9 274.0,444.2 274.7,445.9 275.4,446.7 276.0,448.2 276.7,454.1 277.3,465.4 278.0,473.2 278.6,467.9 279.5,454.2 279.9,456.2 280.6,447.9 281.3,451.3 281.5,446.2 281.9,451.8 282.6,462.4 283.0,468.2 283.9,460.4 284.5,453.2 285.2,451.5 286.0,447.2 286.5,450.3 287.0,442.2 287.8,445.5 288.4,442.8 289.0,446.2 289.8,444.8 290.4,448.7 291.0,449.2 291.7,457.7 292.0,456.2 292.4,450.3 293.0,453.9 293.7,451.7 294.0,451.2 294.3,455.1 295.0,451.9 295.6,463.6 296.0,466.2 296.3,462.6 296.9,461.3 297.6,453.4 298.0,451.2 298.3,453.2 298.9,447.1 299.6,446.5 300.0,445.2 300.9,442.4 301.5,439.0 302.0,437.2 302.8,439.8 303.5,443.5 304.0,444.2 304.8,449.4 305.4,449.7 306.0,453.2 306.8,447.1 307.4,452.4 308.0,446.2 308.7,446.8 309.4,440.0 310.0,445.0 310.7,441.3 311.0,443.2 311.3,445.7 312.0,444.1 312.6,453.6 313.3,452.6 314.0,456.2 314.6,452.0 315.3,449.9 316.0,444.2 316.6,443.9 317.2,441.9 317.9,443.3 318.5,438.8 319.0,440.2 319.8,445.3 320.5,450.7 321.0,453.2 321.8,453.3 322.5,446.1 323.1,449.0 323.8,444.3 324.0,444.2 324.4,445.5 325.1,444.6 325.7,450.9 326.0,449.2 326.4,448.5 327.0,450.8 327.7,447.9 328.0,451.2 328.3,453.9 329.0,446.8 329.6,448.4 330.0,447.2 330.3,444.7 331.0,447.7 331.6,443.4 332.3,444.3 333.0,442.2 333.6,446.0 334.2,446.5 335.0,453.2 335.5,452.4 336.2,453.5 336.8,453.2 337.5,454.0 338.0,453.2 338.8,455.3 339.5,449.2 340.1,455.0 340.5,455.2 340.8,447.0 341.1,443.1 341.4,474.1 342.1,485.7 342.5,511.4 343.2,422.8 344.0,444.0 344.7,428.1 345.2,441.3 346.1,488.6 346.6,496.6 347.3,492.1 347.7,500.3 348.6,448.8 348.9,431.6 349.3,457.7 349.9,489.5 350.7,538.8 351.2,496.3 351.9,472.0 352.6,424.7 353.2,443.6 353.9,465.1 354.5,463.8 355.1,456.4 355.8,462.4 356.5,456.6 356.7,456.0 357.1,478.1 357.8,495.0 358.4,526.0 358.8,538.8 359.1,506.4 359.7,453.1 360.4,373.1 361.0,447.0 361.7,508.1 362.3,484.8 363.0,434.1 363.6,406.7 364.3,456.6 364.7,497.7 365.0,476.5 365.5,421.9 366.3,468.3 366.9,493.1 367.6,538.8 368.2,454.0 369.0,361.1 369.5,381.9 370.2,440.4 370.8,470.3 371.5,514.0 372.1,473.5 372.8,445.6 373.5,402.8 373.8,384.6 374.1,405.8 374.8,427.9 375.4,467.1 375.6,438.5 376.1,444.8 376.7,466.7 377.4,477.3 378.0,495.1 378.9,444.0 379.3,444.6 380.0,433.1 380.7,459.4 381.3,439.8 381.6,442.2 382.0,499.7 382.6,489.7 383.3,490.7 383.9,474.2 384.2,473.6 384.6,463.8 385.3,433.4 385.9,444.2 386.5,441.5 387.2,465.3 387.9,462.5 388.6,451.4 389.2,442.7 389.8,471.3 390.5,477.5 391.1,447.5 391.8,408.6 392.4,427.6 393.1,431.1 393.7,458.7 394.4,450.5 394.8,467.1 395.0,466.8 395.7,454.5 396.4,450.5 397.0,446.3 397.7,480.3 398.3,493.2 398.7,504.2 399.0,491.9 399.6,451.2 400.3,431.0 401.1,390.6 401.6,439.9 402.3,491.2 402.9,457.8 403.5,413.7 403.8,403.5 404.2,417.0 404.8,409.9 405.7,424.7 405.8,454.7 406.2,451.7 406.8,458.2 407.5,448.2 408.1,452.8 408.4,447.7 408.8,448.5 409.4,462.4 410.1,459.1 410.4,473.6 410.7,463.5 411.4,434.9 411.6,431.6 412.0,455.4 412.7,481.8 413.3,525.4 414.0,470.7 414.9,404.9 415.3,407.1 416.0,434.5 416.6,437.1 417.2,463.1 417.9,448.8 418.6,439.7 418.8,429.7 419.2,428.7 419.9,435.1 420.5,422.5 421.2,446.1 421.8,421.2 422.5,447.2 423.2,442.2 423.8,454.0 424.5,451.2 425.1,462.8 425.8,448.0 426.0,463.8 426.4,470.2 427.1,435.1 427.8,437.1 428.4,445.4 429.0,474.8 429.7,476.2 430.3,498.4 431.2,364.8 431.7,412.2 432.3,473.6 433.0,475.4 433.6,455.4 434.3,470.4 434.9,458.1 435.6,472.2 435.9,464.5 436.2,435.9 436.6,431.1 436.9,458.1 437.5,476.4 438.2,515.0 438.9,407.6 439.5,427.0 440.2,437.8 440.8,470.9 441.1,475.5 441.2,412.2 441.5,407.8 442.1,430.2 442.8,423.9 443.4,453.8 444.1,456.0 444.7,482.6 445.4,477.3 446.0,496.4 446.7,392.4 447.4,407.1 448.0,405.7 448.6,417.3 449.3,429.1 450.0,458.8 450.6,464.4 451.3,498.0 451.9,509.8 452.6,463.2 453.2,412.4 453.7,382.3 453.9,387.8 454.5,392.3 455.2,412.5 456.0,423.8 456.5,423.9 457.2,412.2 457.8,421.9 458.3,412.7 458.4,476.8 459.1,453.0 459.6,428.4 460.4,443.0 461.1,422.7 461.7,433.2 462.4,433.9 462.6,448.2 463.0,464.4 463.7,433.0 464.4,452.8 465.2,440.3 465.7,451.1 466.3,459.6 466.9,470.3 467.6,441.6 467.9,434.8 468.3,450.2 468.9,458.0 469.8,480.8 470.2,449.0 470.7,417.3 471.4,480.8 472.2,476.4 472.9,457.6 473.6,447.9 474.2,446.7 474.8,458.9 475.5,444.9 476.1,458.9 476.8,458.2 477.4,470.8 478.1,452.5 478.6,467.9 479.4,475.0 480.0,487.3 480.3,490.1 480.7,469.5 481.4,455.6 482.0,418.3 482.6,405.6 483.3,438.8 484.0,477.9 484.6,456.8 485.3,466.0 485.7,449.3 486.6,460.9 487.2,447.4 487.9,459.3 488.6,450.0 489.3,443.6 490.0,446.4" fill="none" stroke="#000" stroke-width="1.8" stroke-linejoin="round"/>
<polyline points="155.0,449.9 155.7,448.9 156.3,448.2 157.0,447.5 157.7,447.1 158.3,446.8 159.0,446.6 159.6,446.4 160.3,446.4 160.9,446.4 161.6,446.9 162.2,448.0 162.9,449.4 163.5,451.1 164.2,452.9 164.9,454.7 165.5,456.4 166.2,457.8 166.8,458.9 167.5,459.5 168.1,459.5 168.8,459.3 169.4,459.0 170.1,458.6 170.7,458.1 171.4,457.6 172.0,457.1 172.7,456.6 173.4,456.2 174.0,455.9 174.7,455.6 175.3,455.3 176.0,455.1 176.6,454.8 177.3,454.6 177.9,454.4 178.6,454.3 179.2,454.3 179.9,454.5 180.5,454.9 181.2,455.5 181.9,456.1 182.5,456.8 183.2,457.5 183.8,458.0 184.5,458.4 185.1,458.6 185.8,458.5 186.4,458.1 187.1,457.4 187.7,456.5 188.4,455.5 189.0,454.4 189.7,453.3 190.4,452.3 191.0,451.4 191.7,450.6 192.3,450.1 193.0,449.9 193.6,450.0 194.3,450.5 194.9,451.3 195.6,452.4 196.2,453.6 196.9,455.0 197.5,456.5 198.2,458.0 198.9,459.5 199.5,460.9 200.2,462.2 200.8,463.3 201.5,464.1 202.1,464.6 202.8,464.7 203.4,464.6 204.1,464.3 204.7,463.9 205.4,463.3 206.0,462.7 206.7,462.1 207.4,461.4 208.0,460.8 208.7,460.3 209.3,459.9 210.0,459.6 210.6,459.5 211.3,459.5 211.9,459.7 212.6,459.8 213.2,460.1 213.9,460.4 214.5,460.7 215.2,461.0 215.9,461.3 216.5,461.6 217.2,461.9 217.8,462.2 218.5,462.6 219.1,463.1 219.8,463.5 220.4,463.8 221.1,463.9 221.7,463.5 222.4,462.5 223.1,461.1 223.7,459.4 224.4,457.6 225.0,455.8 225.7,454.3 226.3,453.1 227.0,452.6 227.6,452.6 228.3,453.0 228.9,453.8 229.6,454.8 230.2,456.0 230.9,457.2 231.6,458.5 232.2,459.7 232.9,460.8 233.5,461.8 234.2,462.3 234.8,462.6 235.5,462.4 236.1,461.8 236.8,460.6 237.4,459.4 238.1,458.1 238.7,456.9 239.4,455.9 240.1,455.1 240.7,454.8 241.4,454.8 242.0,455.4 242.7,455.9 243.3,456.2 244.0,456.4 244.6,456.4 245.3,456.6 245.9,456.4 246.6,455.4 247.2,454.1 247.9,452.8 248.6,451.9 249.2,450.7 249.9,450.1 250.5,449.3 251.2,449.0 251.8,447.5 252.5,445.6 253.1,443.3 253.8,442.1 254.4,441.4 255.1,441.9 255.7,442.0 256.4,443.3 257.1,444.0 257.7,445.6 258.4,445.8 259.0,446.3 259.7,445.5 260.3,445.4 261.0,444.5 261.6,444.0 262.3,443.2 262.9,443.2 263.6,443.3 264.2,444.2 264.9,444.7 265.6,444.9 266.2,444.4 266.9,444.0 267.5,443.4 268.2,443.2 268.8,442.9 269.5,443.4 270.1,443.6 270.8,444.3 271.4,444.3 272.1,444.8 272.8,444.9 273.4,445.2 274.1,445.3 274.7,446.0 275.4,447.4 276.0,450.9 276.7,456.6 277.3,463.0 278.0,466.4 278.6,465.1 279.3,460.2 279.9,455.4 280.6,452.0 281.3,452.5 281.9,455.2 282.6,459.5 283.2,461.0 283.9,459.3 284.5,455.3 285.2,452.0 285.8,449.3 286.5,447.7 287.1,445.6 287.8,444.9 288.4,444.3 289.1,445.3 289.8,446.3 290.4,448.8 291.1,450.9 291.7,452.9 292.4,452.8 293.0,453.1 293.7,452.8 294.3,454.5 295.0,456.4 295.6,459.6 296.3,460.3 296.9,459.2 297.6,455.4 298.3,452.0 298.9,448.7 299.6,446.5 300.2,444.2 300.9,442.1 301.5,440.2 302.2,439.6 302.8,440.7 303.5,443.0 304.1,445.6 304.8,448.2 305.4,449.4 306.1,450.3 306.8,449.7 307.4,449.2 308.1,447.2 308.7,445.6 309.4,443.5 310.0,443.3 310.7,443.3 311.3,445.2 312.0,447.2 312.6,450.7 313.3,452.6 313.9,453.4 314.6,451.7 315.3,449.2 315.9,446.2 316.6,444.3 317.2,442.7 317.9,441.8 318.5,441.4 319.2,442.9 319.8,445.8 320.5,449.3 321.1,451.0 321.8,450.9 322.5,448.9 323.1,447.4 323.8,445.8 324.4,446.0 325.1,446.6 325.7,448.3 326.4,449.0 327.0,450.0 327.7,449.8 328.3,450.0 329.0,448.6 329.6,447.8 330.3,446.5 331.0,446.2 331.6,445.4 332.3,445.4 332.9,445.7 333.6,447.0 334.2,448.2 334.9,449.2 335.5,449.4 336.2,449.1 336.8,448.5 337.5,448.0 338.1,447.8 338.8,448.3 339.2,449.0 339.6,449.9 339.9,450.8 340.2,451.8 340.5,452.9 340.9,454.7 341.2,457.1 341.5,459.8 341.8,462.5 342.2,465.0 342.5,466.9 342.8,468.1 343.1,468.4 343.5,468.2 343.8,467.7 344.1,467.1 344.5,466.5 344.8,465.8 345.1,465.3 345.4,464.9 345.8,464.8 346.1,465.2 346.4,466.1 346.7,467.5 347.1,469.2 347.4,471.1 347.7,473.1 348.1,475.0 348.4,476.7 348.7,478.0 349.0,478.9 349.4,479.2 349.7,478.6 350.0,477.2 350.3,475.1 350.7,472.4 351.0,469.4 351.3,466.2 351.7,463.0 352.0,459.9 352.3,456.7 352.6,452.7 353.0,448.2 353.3,443.5 353.6,439.1 353.9,435.2 354.3,432.3 354.6,430.8 354.9,430.8 355.3,431.7 355.6,433.5 355.9,436.0 356.2,439.1 356.6,442.7 356.9,446.7 357.2,451.0 357.5,455.7 357.9,464.3 358.2,476.0 358.5,488.0 358.9,497.7 359.2,502.5 359.5,501.8 359.8,499.1 360.2,494.6 360.5,489.0 360.8,482.4 361.1,475.5 361.5,468.6 361.8,462.0 362.1,455.7 362.5,447.5 362.8,439.8 363.1,435.4 363.4,435.8 363.8,438.9 364.1,443.9 364.4,450.2 364.7,457.2 365.1,464.4 365.4,471.1 365.7,476.8 366.0,480.9 366.4,482.7 366.7,481.9 367.0,478.5 367.4,473.1 367.7,466.5 368.0,459.1 368.3,451.7 368.7,444.8 369.0,439.0 369.3,435.0 369.6,433.3 370.0,434.4 370.3,437.9 370.6,442.8 371.0,448.5 371.3,454.1 371.6,458.9 371.9,462.1 372.3,462.9 372.6,460.8 372.9,456.5 373.2,450.8 373.6,444.8 373.9,439.4 374.2,435.6 374.6,434.2 374.9,435.2 375.2,437.8 375.5,441.7 375.9,446.4 376.2,451.6 376.5,457.0 376.8,462.2 377.2,466.8 377.5,470.5 377.8,473.0 378.2,473.8 378.5,472.9 378.8,470.7 379.1,467.7 379.5,464.2 379.8,460.6 380.1,457.5 380.4,455.1 380.8,454.0 381.1,454.2 381.4,455.0 381.8,456.3 382.1,458.0 382.4,459.8 382.7,461.8 383.1,463.7 383.4,465.5 383.7,466.9 384.0,467.9 384.4,468.4 384.7,468.3 385.0,467.9 385.4,467.2 385.7,466.3 386.0,465.2 386.3,464.0 386.7,462.7 387.0,461.4 387.3,460.1 387.6,458.9 388.0,457.8 388.3,456.8 388.6,455.6 388.9,454.4 389.3,453.1 389.6,451.8 389.9,450.5 390.3,449.3 390.6,448.1 390.9,447.0 391.2,446.0 391.6,445.2 391.9,444.6 392.2,444.2 392.5,444.1 392.9,444.5 393.2,445.5 393.5,447.0 393.9,449.0 394.2,451.3 394.5,454.0 394.8,456.8 395.2,459.7 395.5,462.6 395.8,465.5 396.1,468.2 396.5,470.7 396.8,472.8 397.1,474.6 397.5,475.8 397.8,476.4 398.1,476.4 398.4,475.4 398.8,473.8 399.1,471.7 399.4,469.1 399.7,466.4 400.1,463.7 400.4,461.1 400.7,458.7 401.1,456.2 401.4,453.3 401.7,450.2 402.0,447.1 402.4,444.0 402.7,441.0 403.0,438.4 403.3,436.2 403.7,434.5 404.0,433.5 404.3,433.3 404.7,433.6 405.0,434.3 405.3,435.2 405.6,436.4 406.0,437.8 406.3,439.3 406.6,440.9 406.9,442.5 407.3,444.2 407.6,445.7 407.9,447.2 408.3,448.9 408.6,450.8 408.9,452.9 409.2,455.2 409.6,457.5 409.9,459.9 410.2,462.3 410.5,464.7 410.9,467.0 411.2,469.1 411.5,471.1 411.8,472.8 412.2,474.3 412.5,475.4 412.8,476.2 413.2,476.5 413.5,475.8 413.8,473.3 414.1,469.2 414.5,464.2 414.8,458.5 415.1,452.9 415.4,447.6 415.8,443.1 416.1,440.0 416.4,438.7 416.8,438.9 417.1,439.6 417.4,440.7 417.7,442.1 418.1,443.5 418.4,444.9 418.7,446.2 419.0,447.1 419.4,447.6 419.7,447.7 420.0,447.7 420.4,447.7 420.7,447.7 421.0,447.7 421.3,447.7 421.7,447.7 422.0,447.7 422.3,447.7 422.6,447.7 423.0,447.7 423.3,447.7 423.6,447.7 424.0,447.7 424.3,447.9 424.6,448.6 424.9,449.8 425.3,451.4 425.6,453.2 425.9,455.3 426.2,457.4 426.6,459.5 426.9,461.6 427.2,463.5 427.6,465.1 427.9,466.4 428.2,467.2 428.5,467.5 428.9,466.9 429.2,465.3 429.5,462.9 429.8,459.9 430.2,456.3 430.5,452.4 430.8,448.4 431.2,444.5 431.5,440.7 431.8,437.3 432.1,434.4 432.5,432.2 432.8,430.9 433.1,430.6 433.4,431.2 433.8,432.4 434.1,434.1 434.4,436.3 434.7,438.9 435.1,441.7 435.4,444.7 435.7,447.8 436.1,450.9 436.4,453.9 436.7,456.7 437.0,459.2 437.4,461.4 437.7,463.1 438.0,464.3 438.3,464.8 438.7,464.4 439.0,462.9 439.3,460.4 439.7,457.2 440.0,453.6 440.3,449.8 440.6,446.1 441.0,442.7 441.3,439.9 441.6,437.9 441.9,436.9 442.3,437.1 442.6,438.0 442.9,439.3 443.3,441.1 443.6,443.0 443.9,445.1 444.2,447.2 444.6,449.0 444.9,450.6 445.2,451.7 445.5,452.2 445.9,451.3 446.2,447.6 446.5,442.0 446.9,435.3 447.2,428.4 447.5,421.9 447.8,416.8 448.2,413.9 448.5,414.0 448.8,417.4 449.1,423.5 449.5,431.3 449.8,440.0 450.1,448.9 450.5,457.0 450.8,463.7 451.1,468.1 451.4,469.3 451.8,467.6 452.1,463.9 452.4,458.6 452.7,452.2 453.1,445.2 453.4,437.9 453.7,431.1 454.1,425.0 454.4,420.1 454.7,417.1 455.0,416.2 455.4,417.4 455.7,420.2 456.0,424.0 456.3,428.6 456.7,433.5 457.0,438.2 457.3,442.5 457.6,446.0 458.0,448.1 458.3,448.6 458.6,447.6 459.0,445.8 459.3,443.3 459.6,440.6 459.9,437.9 460.3,435.5 460.6,433.9 460.9,433.3 461.2,433.5 461.6,434.2 461.9,435.1 462.2,436.4 462.6,437.8 462.9,439.4 463.2,441.0 463.5,442.6 463.9,444.2 464.2,445.6 464.5,446.8 464.8,448.0 465.2,449.2 465.5,450.5 465.8,451.8 466.2,453.1 466.5,454.3 466.8,455.4 467.1,456.3 467.5,457.0 467.8,457.4 468.1,457.6 468.4,457.1 468.8,455.9 469.1,454.0 469.4,451.6 469.8,449.0 470.1,446.3 470.4,443.7 470.7,441.4 471.1,439.5 471.4,438.3 471.7,437.8 472.0,437.9 472.4,438.4 472.7,439.0 473.0,439.9 473.4,440.9 473.7,442.0 474.0,443.3 474.3,444.6 474.7,445.9 475.0,447.3 475.3,448.6 475.6,450.1 476.0,452.0 476.3,454.3 476.6,456.7 477.0,459.3 477.3,462.0 477.6,464.7 477.9,467.2 478.3,469.6 478.6,471.6 478.9,473.4 479.2,474.7 479.6,475.4 479.9,475.5 480.2,474.4 480.5,472.0 480.9,468.6 481.2,464.5 481.5,460.1 481.9,455.5 482.2,451.3 482.5,447.5 482.8,444.6 483.2,442.7 483.5,442.3 483.8,443.4 484.1,445.4 484.5,448.2 484.8,451.2 485.1,454.3 485.5,456.9 485.8,458.7 486.1,459.4 486.4,459.2 486.8,458.8 487.1,458.0 487.4,456.9 487.7,455.4 488.1,453.5 488.4,451.2 488.7,448.5 489.1,445.4 489.4,441.8 489.7,437.8" fill="none" stroke="#f00" stroke-width="1.8" stroke-linejoin="round"/>
</g>
<rect x="138.3" y="331.3" width="368.3" height="203.9" fill="none" stroke="#222" stroke-width="1.3"/>
<line x1="134.3" y1="535.2" x2="138.3" y2="535.2" stroke="#222" stroke-width="1"/>
<text x="129.8" y="541.6" text-anchor="end" class="tk">−4</text>
<line x1="134.3" y1="494.4" x2="138.3" y2="494.4" stroke="#222" stroke-width="1"/>
<text x="129.8" y="500.8" text-anchor="end" class="tk">−2</text>
<line x1="134.3" y1="453.6" x2="138.3" y2="453.6" stroke="#222" stroke-width="1"/>
<text x="129.8" y="460.0" text-anchor="end" class="tk">0</text>
<line x1="134.3" y1="412.9" x2="138.3" y2="412.9" stroke="#222" stroke-width="1"/>
<text x="129.8" y="419.3" text-anchor="end" class="tk">2</text>
<line x1="134.3" y1="372.1" x2="138.3" y2="372.1" stroke="#222" stroke-width="1"/>
<text x="129.8" y="378.5" text-anchor="end" class="tk">4</text>
<line x1="134.3" y1="331.3" x2="138.3" y2="331.3" stroke="#222" stroke-width="1"/>
<text x="129.8" y="337.7" text-anchor="end" class="tk">6</text>
<line x1="155.0" y1="535.2" x2="155.0" y2="539.2" stroke="#222" stroke-width="1"/>
<text x="155.0" y="556.2" text-anchor="middle" class="tk">0.0</text>
<line x1="238.7" y1="535.2" x2="238.7" y2="539.2" stroke="#222" stroke-width="1"/>
<text x="238.7" y="556.2" text-anchor="middle" class="tk">0.5</text>
<line x1="322.5" y1="535.2" x2="322.5" y2="539.2" stroke="#222" stroke-width="1"/>
<text x="322.5" y="556.2" text-anchor="middle" class="tk">1.0</text>
<line x1="406.2" y1="535.2" x2="406.2" y2="539.2" stroke="#222" stroke-width="1"/>
<text x="406.2" y="556.2" text-anchor="middle" class="tk">1.5</text>
<line x1="489.9" y1="535.2" x2="489.9" y2="539.2" stroke="#222" stroke-width="1"/>
<text x="489.9" y="556.2" text-anchor="middle" class="tk">2.0</text>
<text x="322.5" y="581.6" text-anchor="middle" class="lb">Time (s)</text>
<text transform="translate(96.3,433.2) rotate(-90)" text-anchor="middle" class="lb2">Amplitude</text>
<defs><clipPath id="cp11"><rect x="627.2" y="331.3" width="368.4" height="203.9"/></clipPath></defs>
<g clip-path="url(#cp11)">
<polyline points="644.0,456.2 644.8,457.0 645.7,457.2 646.5,456.7 647.4,454.7 648.2,452.0 649.0,449.6 649.9,446.8 650.7,444.9 651.5,445.2 652.4,447.1 653.2,449.5 654.1,452.0 654.9,454.2 655.7,454.1 656.6,453.7 657.4,453.2 658.3,452.8 659.1,452.5 659.9,452.2 660.8,451.8 661.6,451.1 662.5,450.0 663.3,449.2 664.1,449.5 665.0,450.5 665.8,451.2 666.7,450.5 667.5,448.2 668.3,445.9 669.2,445.3 670.0,447.6 670.9,451.3 671.7,453.9 672.5,454.2 673.4,454.2 674.2,454.1 675.0,452.3 675.9,449.2 676.7,445.8 677.6,443.6 678.4,444.1 679.2,448.7 680.1,451.2 680.9,449.6 681.8,446.8 682.6,444.5 683.4,444.3 684.3,444.8 685.1,445.7 686.0,447.1 686.8,450.2 687.6,454.1 688.5,457.6 689.3,460.0 690.2,461.8 691.0,462.7 691.8,462.6 692.7,462.2 693.5,461.7 694.4,459.4 695.2,455.2 696.0,451.0 696.9,448.7 697.7,449.2 698.5,450.4 699.4,451.7 700.2,452.3 701.1,452.4 701.9,452.5 702.7,452.9 703.6,454.4 704.4,456.7 705.3,458.9 706.1,461.3 706.9,462.7 707.8,462.1 708.6,460.7 709.5,459.5 710.3,459.4 711.1,461.0 712.0,462.2 712.8,460.4 713.7,457.2 714.5,455.2 715.3,453.5 716.2,452.2 717.0,451.7 717.8,452.0 718.7,452.7 719.5,453.6 720.4,454.8 721.2,456.5 722.0,458.3 722.9,460.2 723.7,462.0 724.6,462.7 725.4,461.1 726.2,458.2 727.1,456.1 727.9,454.9 728.8,453.9 729.6,453.3 730.4,453.2 731.3,453.5 732.1,453.9 733.0,454.9 733.8,457.2 734.6,458.2 735.5,458.0 736.3,456.9 737.2,455.5 738.0,454.2 738.8,453.2 739.7,452.0 740.5,451.1 741.3,450.4 742.2,450.2 743.0,450.6 743.9,451.2 744.7,452.0 745.5,452.8 746.4,453.8 747.2,454.8 748.1,455.2 748.9,454.6 749.7,453.6 750.6,452.5 751.4,452.0 752.3,451.8 753.1,451.6 753.9,451.2 754.8,450.5 755.6,449.2 756.5,447.9 757.3,446.9 758.1,445.9 759.0,445.1 759.8,444.7 760.7,444.9 761.5,445.6 762.3,446.5 763.2,447.4 764.0,448.1 764.8,449.0 765.7,449.8 766.5,450.9 767.4,452.2 768.2,453.4 769.0,454.2 769.9,454.8 770.7,455.2 771.6,454.9 772.4,453.8 773.2,452.7 774.1,452.2 774.9,452.9 775.8,453.6 776.6,453.3 777.4,451.8 778.3,450.3 779.1,449.7 780.0,450.7 780.8,452.8 781.6,455.2 782.5,457.6 783.3,460.7 784.1,462.9 785.0,463.0 785.8,462.2 786.7,460.8 787.5,458.8 788.3,455.2 789.2,451.3 790.0,448.3 790.9,445.6 791.7,444.8 792.5,446.0 793.4,448.0 794.2,449.5 795.1,450.7 795.9,451.8 796.7,452.8 797.6,454.2 798.4,455.8 799.3,457.2 800.1,457.7 800.9,456.6 801.8,455.3 802.6,455.9 803.5,457.6 804.3,457.8 805.1,453.5 806.0,448.5 806.8,447.3 807.6,447.8 808.5,448.7 809.3,449.6 810.2,451.0 811.0,452.4 811.8,453.2 812.7,452.4 813.5,450.6 814.4,450.2 815.2,450.6 816.0,451.2 816.9,452.4 817.7,453.6 818.6,453.0 819.4,450.5 820.2,448.4 821.1,448.6 821.9,450.0 822.8,451.8 823.6,453.4 824.4,455.2 825.3,455.7 826.1,455.4 827.0,455.0 827.8,454.7 828.6,454.9 829.5,455.2 830.3,454.3 831.1,455.4 832.0,456.2 832.8,455.6 833.7,454.2 834.5,453.0 835.3,452.8 836.2,453.8 837.0,455.1 837.9,456.1 838.7,456.5 839.5,456.7 840.4,457.0 841.2,457.3 842.1,458.0 842.9,458.7 843.7,459.2 844.6,458.6 845.4,456.5 846.3,454.1 847.1,453.2 847.9,453.8 848.8,454.8 849.6,455.6 850.4,455.5 851.3,454.4 852.1,453.0 853.0,450.5 853.8,447.5 854.6,445.4 855.5,445.3 856.3,446.1 857.2,447.2 858.0,448.5 858.8,450.4 859.7,452.5 860.5,454.5 861.4,456.5 862.2,457.1 863.0,454.9 863.9,452.4 864.7,451.2 865.6,450.1 866.4,449.4 867.2,449.2 868.1,449.3 868.9,449.5 869.8,449.7 870.6,449.8 871.4,449.9 872.3,450.0 873.1,450.3 873.9,452.1 874.8,454.1 875.6,453.8 876.5,452.5 877.3,451.2 878.1,450.7 879.0,451.5 879.8,452.5 880.7,453.2 881.5,453.7 882.3,454.8 883.2,456.9 884.0,458.2 884.9,457.7 885.7,456.7 886.5,455.7 887.4,454.9 888.2,454.4 889.1,453.8 889.9,453.3 890.7,452.5 891.6,451.6 892.4,450.9 893.3,450.7 894.1,451.5 894.9,452.6 895.8,453.5 896.6,454.0 897.4,454.4 898.3,454.6 899.1,454.6 900.0,453.2 900.8,453.6 901.6,454.3 902.5,455.0 903.3,455.0 904.2,453.3 905.0,451.0 905.8,449.3 906.7,448.9 907.5,448.6 908.4,448.4 909.2,448.2 910.0,448.2 910.9,448.4 911.7,449.0 912.6,449.8 913.4,450.7 914.2,452.2 915.1,453.8 915.9,455.1 916.8,455.9 917.6,456.6 918.4,457.1 919.3,457.1 920.1,456.0 920.9,454.3 921.8,453.3 922.6,453.3 923.5,453.5 924.3,453.9 925.1,454.3 926.0,454.7 926.8,455.3 927.7,455.9 928.5,456.7 929.3,458.0 930.2,459.2 931.0,459.7 931.9,458.9 932.7,457.2 933.5,455.7 934.4,455.0 935.2,454.6 936.1,454.3 936.9,454.2 937.7,454.4 938.6,455.0 939.4,455.7 940.2,456.4 941.1,457.1 941.9,458.0 942.8,458.7 943.6,459.1 944.4,459.2 945.3,459.0 946.1,458.6 947.0,458.2 947.8,457.5 948.6,456.3 949.5,455.4 950.3,455.2 951.2,455.5 952.0,455.8 952.8,456.2 953.7,456.4 954.5,456.5 955.4,456.7 956.2,456.7 957.0,456.2 957.9,455.4 958.7,454.5 959.6,453.6 960.4,452.5 961.2,451.6 962.1,451.2 962.9,451.7 963.7,452.8 964.6,453.6 965.4,453.6 966.3,453.1 967.1,452.5 967.9,452.2 968.8,452.5 969.6,453.3 970.5,454.0 971.3,454.2 972.1,453.6 973.0,452.8 973.8,451.9 974.7,451.1 975.5,450.2 976.3,449.3 977.2,448.4 978.0,447.4 978.9,446.4" fill="none" stroke="#0a8585" stroke-width="1.8" stroke-linejoin="round"/>
<polyline points="643.9,449.9 644.6,448.9 645.3,448.2 645.9,447.5 646.6,447.1 647.2,446.8 647.9,446.6 648.5,446.4 649.2,446.4 649.8,446.4 650.5,446.9 651.1,448.0 651.8,449.4 652.4,451.1 653.1,452.9 653.8,454.7 654.4,456.4 655.1,457.8 655.7,458.9 656.4,459.5 657.0,459.5 657.7,459.3 658.3,459.0 659.0,458.6 659.6,458.1 660.3,457.6 661.0,457.1 661.6,456.6 662.3,456.2 662.9,455.9 663.6,455.6 664.2,455.3 664.9,455.1 665.5,454.8 666.2,454.6 666.8,454.4 667.5,454.3 668.1,454.3 668.8,454.5 669.5,454.9 670.1,455.5 670.8,456.1 671.4,456.8 672.1,457.5 672.7,458.0 673.4,458.4 674.0,458.6 674.7,458.5 675.3,458.1 676.0,457.4 676.7,456.5 677.3,455.5 678.0,454.4 678.6,453.3 679.3,452.3 679.9,451.4 680.6,450.6 681.2,450.1 681.9,449.9 682.5,450.0 683.2,450.5 683.8,451.3 684.5,452.4 685.2,453.6 685.8,455.0 686.5,456.5 687.1,458.0 687.8,459.5 688.4,460.9 689.1,462.2 689.7,463.3 690.4,464.1 691.0,464.6 691.7,464.7 692.4,464.6 693.0,464.3 693.7,463.9 694.3,463.3 695.0,462.7 695.6,462.1 696.3,461.4 696.9,460.8 697.6,460.3 698.2,459.9 698.9,459.6 699.5,459.5 700.2,459.5 700.9,459.7 701.5,459.8 702.2,460.1 702.8,460.4 703.5,460.7 704.1,461.0 704.8,461.3 705.4,461.6 706.1,461.9 706.7,462.2 707.4,462.6 708.0,463.1 708.7,463.5 709.4,463.8 710.0,463.9 710.7,463.5 711.3,462.5 712.0,461.1 712.6,459.4 713.3,457.6 713.9,455.8 714.6,454.3 715.2,453.1 715.9,452.6 716.6,452.6 717.2,453.0 717.9,453.8 718.5,454.8 719.2,456.0 719.8,457.2 720.5,458.5 721.1,459.7 721.8,460.8 722.4,461.8 723.1,462.3 723.7,462.6 724.4,462.4 725.1,461.8 725.7,460.6 726.4,459.4 727.0,458.1 727.7,456.9 728.3,455.9 729.0,455.1 729.6,454.8 730.3,454.8 730.9,455.4 731.6,455.9 732.3,456.2 732.9,456.4 733.6,456.4 734.2,456.6 734.9,456.4 735.5,455.4 736.2,454.1 736.8,452.8 737.5,451.9 738.1,450.7 738.8,450.1 739.4,449.3 740.1,449.0 740.8,447.5 741.4,445.6 742.1,443.3 742.7,442.1 743.4,441.4 744.0,441.9 744.7,442.0 745.3,443.3 746.0,444.0 746.6,445.6 747.3,445.8 748.0,446.3 748.6,445.5 749.3,445.4 749.9,444.5 750.6,444.0 751.2,443.2 751.9,443.2 752.5,443.3 753.2,444.2 753.8,444.7 754.5,444.9 755.1,444.4 755.8,444.0 756.5,443.4 757.1,443.2 757.8,442.9 758.4,443.4 759.1,443.6 759.7,444.3 760.4,444.3 761.0,444.8 761.7,444.9 762.3,445.2 763.0,445.3 763.6,446.0 764.3,447.4 765.0,450.9 765.6,456.6 766.3,463.0 766.9,466.4 767.6,465.1 768.2,460.2 768.9,455.4 769.5,452.0 770.2,452.5 770.8,455.2 771.5,459.5 772.2,461.0 772.8,459.3 773.5,455.3 774.1,452.0 774.8,449.3 775.4,447.7 776.1,445.6 776.7,444.9 777.4,444.3 778.0,445.3 778.7,446.3 779.3,448.8 780.0,450.9 780.7,452.9 781.3,452.8 782.0,453.1 782.6,452.8 783.3,454.5 783.9,456.4 784.6,459.6 785.2,460.3 785.9,459.2 786.5,455.4 787.2,452.0 787.9,448.7 788.5,446.5 789.2,444.2 789.8,442.1 790.5,440.2 791.1,439.6 791.8,440.7 792.4,443.0 793.1,445.6 793.7,448.2 794.4,449.4 795.0,450.3 795.7,449.7 796.4,449.2 797.0,447.2 797.7,445.6 798.3,443.5 799.0,443.3 799.6,443.3 800.3,445.2 800.9,447.2 801.6,450.7 802.2,452.6 802.9,453.4 803.6,451.7 804.2,449.2 804.9,446.2 805.5,444.3 806.2,442.7 806.8,441.8 807.5,441.4 808.1,442.9 808.8,445.8 809.4,449.3 810.1,451.0 810.7,450.9 811.4,448.9 812.1,447.4 812.7,445.8 813.4,446.0 814.0,446.6 814.7,448.3 815.3,449.0 816.0,450.0 816.6,449.8 817.3,450.0 817.9,448.6 818.6,447.8 819.2,446.5 819.9,446.2 820.6,445.4 821.2,445.4 821.9,445.7 822.5,447.0 823.2,448.2 823.8,449.2 824.5,449.4 825.1,449.1 825.8,448.5 826.4,448.0 827.1,447.8 827.8,448.3 828.2,449.0 828.5,449.9 828.8,450.8 829.2,451.8 829.5,452.9 829.8,454.7 830.1,457.1 830.5,459.8 830.8,462.5 831.1,465.0 831.4,466.9 831.8,468.1 832.1,468.4 832.4,468.2 832.8,467.7 833.1,467.1 833.4,466.5 833.7,465.8 834.1,465.3 834.4,464.9 834.7,464.8 835.0,465.2 835.4,466.1 835.7,467.5 836.0,469.2 836.4,471.1 836.7,473.1 837.0,475.0 837.3,476.7 837.7,478.0 838.0,478.9 838.3,479.2 838.6,478.6 839.0,477.2 839.3,475.1 839.6,472.4 840.0,469.4 840.3,466.2 840.6,463.0 840.9,459.9 841.3,456.7 841.6,452.7 841.9,448.2 842.2,443.5 842.6,439.1 842.9,435.2 843.2,432.3 843.6,430.8 843.9,430.8 844.2,431.7 844.5,433.5 844.9,436.0 845.2,439.1 845.5,442.7 845.8,446.7 846.2,451.0 846.5,455.7 846.8,464.3 847.2,476.0 847.5,488.0 847.8,497.7 848.1,502.5 848.5,501.8 848.8,499.1 849.1,494.6 849.4,489.0 849.8,482.4 850.1,475.5 850.4,468.6 850.8,462.0 851.1,455.7 851.4,447.5 851.7,439.8 852.1,435.4 852.4,435.8 852.7,438.9 853.0,443.9 853.4,450.2 853.7,457.2 854.0,464.4 854.4,471.1 854.7,476.8 855.0,480.9 855.3,482.7 855.7,481.9 856.0,478.5 856.3,473.1 856.6,466.5 857.0,459.1 857.3,451.7 857.6,444.8 858.0,439.0 858.3,435.0 858.6,433.3 858.9,434.4 859.3,437.9 859.6,442.8 859.9,448.5 860.2,454.1 860.6,458.9 860.9,462.1 861.2,462.9 861.6,460.8 861.9,456.5 862.2,450.8 862.5,444.8 862.9,439.4 863.2,435.6 863.5,434.2 863.8,435.2 864.2,437.8 864.5,441.7 864.8,446.4 865.2,451.6 865.5,457.0 865.8,462.2 866.1,466.8 866.5,470.5 866.8,473.0 867.1,473.8 867.4,472.9 867.8,470.7 868.1,467.7 868.4,464.2 868.8,460.6 869.1,457.5 869.4,455.1 869.7,454.0 870.1,454.2 870.4,455.0 870.7,456.3 871.0,458.0 871.4,459.8 871.7,461.8 872.0,463.7 872.4,465.5 872.7,466.9 873.0,467.9 873.3,468.4 873.7,468.3 874.0,467.9 874.3,467.2 874.6,466.3 875.0,465.2 875.3,464.0 875.6,462.7 876.0,461.4 876.3,460.1 876.6,458.9 876.9,457.8 877.3,456.8 877.6,455.6 877.9,454.4 878.2,453.1 878.6,451.8 878.9,450.5 879.2,449.3 879.6,448.1 879.9,447.0 880.2,446.0 880.5,445.2 880.9,444.6 881.2,444.2 881.5,444.1 881.8,444.5 882.2,445.5 882.5,447.0 882.8,449.0 883.2,451.3 883.5,454.0 883.8,456.8 884.1,459.7 884.5,462.6 884.8,465.5 885.1,468.2 885.4,470.7 885.8,472.8 886.1,474.6 886.4,475.8 886.8,476.4 887.1,476.4 887.4,475.4 887.7,473.8 888.1,471.7 888.4,469.1 888.7,466.4 889.0,463.7 889.4,461.1 889.7,458.7 890.0,456.2 890.4,453.3 890.7,450.2 891.0,447.1 891.3,444.0 891.7,441.0 892.0,438.4 892.3,436.2 892.6,434.5 893.0,433.5 893.3,433.3 893.6,433.6 894.0,434.3 894.3,435.2 894.6,436.4 894.9,437.8 895.3,439.3 895.6,440.9 895.9,442.5 896.2,444.2 896.6,445.7 896.9,447.2 897.2,448.9 897.6,450.8 897.9,452.9 898.2,455.2 898.5,457.5 898.9,459.9 899.2,462.3 899.5,464.7 899.8,467.0 900.2,469.1 900.5,471.1 900.8,472.8 901.2,474.3 901.5,475.4 901.8,476.2 902.1,476.5 902.5,475.8 902.8,473.3 903.1,469.2 903.4,464.2 903.8,458.5 904.1,452.9 904.4,447.6 904.7,443.1 905.1,440.0 905.4,438.7 905.7,438.9 906.1,439.6 906.4,440.7 906.7,442.1 907.0,443.5 907.4,444.9 907.7,446.2 908.0,447.1 908.3,447.6 908.7,447.7 909.0,447.7 909.3,447.7 909.7,447.7 910.0,447.7 910.3,447.7 910.6,447.7 911.0,447.7 911.3,447.7 911.6,447.7 911.9,447.7 912.3,447.7 912.6,447.7 912.9,447.7 913.3,447.9 913.6,448.6 913.9,449.8 914.2,451.4 914.6,453.2 914.9,455.3 915.2,457.4 915.5,459.5 915.9,461.6 916.2,463.5 916.5,465.1 916.9,466.4 917.2,467.2 917.5,467.5 917.8,466.9 918.2,465.3 918.5,462.9 918.8,459.9 919.1,456.3 919.5,452.4 919.8,448.4 920.1,444.5 920.5,440.7 920.8,437.3 921.1,434.4 921.4,432.2 921.8,430.9 922.1,430.6 922.4,431.2 922.7,432.4 923.1,434.1 923.4,436.3 923.7,438.9 924.1,441.7 924.4,444.7 924.7,447.8 925.0,450.9 925.4,453.9 925.7,456.7 926.0,459.2 926.3,461.4 926.7,463.1 927.0,464.3 927.3,464.8 927.7,464.4 928.0,462.9 928.3,460.4 928.6,457.2 929.0,453.6 929.3,449.8 929.6,446.1 929.9,442.7 930.3,439.9 930.6,437.9 930.9,436.9 931.3,437.1 931.6,438.0 931.9,439.3 932.2,441.1 932.6,443.0 932.9,445.1 933.2,447.2 933.5,449.0 933.9,450.6 934.2,451.7 934.5,452.2 934.9,451.3 935.2,447.6 935.5,442.0 935.8,435.3 936.2,428.4 936.5,421.9 936.8,416.8 937.1,413.9 937.5,414.0 937.8,417.4 938.1,423.5 938.5,431.3 938.8,440.0 939.1,448.9 939.4,457.0 939.8,463.7 940.1,468.1 940.4,469.3 940.7,467.6 941.1,463.9 941.4,458.6 941.7,452.2 942.1,445.2 942.4,437.9 942.7,431.1 943.0,425.0 943.4,420.1 943.7,417.1 944.0,416.2 944.3,417.4 944.7,420.2 945.0,424.0 945.3,428.6 945.7,433.5 946.0,438.2 946.3,442.5 946.6,446.0 947.0,448.1 947.3,448.6 947.6,447.6 947.9,445.8 948.3,443.3 948.6,440.6 948.9,437.9 949.3,435.5 949.6,433.9 949.9,433.3 950.2,433.5 950.6,434.2 950.9,435.1 951.2,436.4 951.5,437.8 951.9,439.4 952.2,441.0 952.5,442.6 952.9,444.2 953.2,445.6 953.5,446.8 953.8,448.0 954.2,449.2 954.5,450.5 954.8,451.8 955.1,453.1 955.5,454.3 955.8,455.4 956.1,456.3 956.5,457.0 956.8,457.4 957.1,457.6 957.4,457.1 957.8,455.9 958.1,454.0 958.4,451.6 958.7,449.0 959.1,446.3 959.4,443.7 959.7,441.4 960.1,439.5 960.4,438.3 960.7,437.8 961.0,437.9 961.4,438.4 961.7,439.0 962.0,439.9 962.3,440.9 962.7,442.0 963.0,443.3 963.3,444.6 963.7,445.9 964.0,447.3 964.3,448.6 964.6,450.1 965.0,452.0 965.3,454.3 965.6,456.7 965.9,459.3 966.3,462.0 966.6,464.7 966.9,467.2 967.3,469.6 967.6,471.6 967.9,473.4 968.2,474.7 968.6,475.4 968.9,475.5 969.2,474.4 969.5,472.0 969.9,468.6 970.2,464.5 970.5,460.1 970.9,455.5 971.2,451.3 971.5,447.5 971.8,444.6 972.2,442.7 972.5,442.3 972.8,443.4 973.1,445.4 973.5,448.2 973.8,451.2 974.1,454.3 974.5,456.9 974.8,458.7 975.1,459.4 975.4,459.2 975.8,458.8 976.1,458.0 976.4,456.9 976.7,455.4 977.1,453.5 977.4,451.2 977.7,448.5 978.1,445.4 978.4,441.8 978.7,437.8" fill="none" stroke="#f00" stroke-width="1.8" stroke-linejoin="round"/>
</g>
<rect x="627.2" y="331.3" width="368.4" height="203.9" fill="none" stroke="#222" stroke-width="1.3"/>
<line x1="623.2" y1="535.2" x2="627.2" y2="535.2" stroke="#222" stroke-width="1"/>
<text x="618.7" y="541.6" text-anchor="end" class="tk">−4</text>
<line x1="623.2" y1="494.4" x2="627.2" y2="494.4" stroke="#222" stroke-width="1"/>
<text x="618.7" y="500.8" text-anchor="end" class="tk">−2</text>
<line x1="623.2" y1="453.6" x2="627.2" y2="453.6" stroke="#222" stroke-width="1"/>
<text x="618.7" y="460.0" text-anchor="end" class="tk">0</text>
<line x1="623.2" y1="412.9" x2="627.2" y2="412.9" stroke="#222" stroke-width="1"/>
<text x="618.7" y="419.3" text-anchor="end" class="tk">2</text>
<line x1="623.2" y1="372.1" x2="627.2" y2="372.1" stroke="#222" stroke-width="1"/>
<text x="618.7" y="378.5" text-anchor="end" class="tk">4</text>
<line x1="623.2" y1="331.3" x2="627.2" y2="331.3" stroke="#222" stroke-width="1"/>
<text x="618.7" y="337.7" text-anchor="end" class="tk">6</text>
<line x1="643.9" y1="535.2" x2="643.9" y2="539.2" stroke="#222" stroke-width="1"/>
<text x="643.9" y="556.2" text-anchor="middle" class="tk">0.0</text>
<line x1="727.7" y1="535.2" x2="727.7" y2="539.2" stroke="#222" stroke-width="1"/>
<text x="727.7" y="556.2" text-anchor="middle" class="tk">0.5</text>
<line x1="811.4" y1="535.2" x2="811.4" y2="539.2" stroke="#222" stroke-width="1"/>
<text x="811.4" y="556.2" text-anchor="middle" class="tk">1.0</text>
<line x1="895.1" y1="535.2" x2="895.1" y2="539.2" stroke="#222" stroke-width="1"/>
<text x="895.1" y="556.2" text-anchor="middle" class="tk">1.5</text>
<line x1="978.9" y1="535.2" x2="978.9" y2="539.2" stroke="#222" stroke-width="1"/>
<text x="978.9" y="556.2" text-anchor="middle" class="tk">2.0</text>
<text x="811.4" y="581.6" text-anchor="middle" class="lb">Time (s)</text>
<text transform="translate(586.0,433.2) rotate(-90)" text-anchor="middle" class="lb2">Amplitude</text>
<defs><clipPath id="cp20"><rect x="138.3" y="655.1" width="368.3" height="203.9"/></clipPath></defs>
<g clip-path="url(#cp20)">
<polyline points="155.0,781.0 155.7,784.4 156.0,787.0 156.3,788.0 157.0,779.7 157.7,779.5 158.0,779.0 158.3,777.4 159.0,778.2 159.6,776.1 160.3,771.5 161.0,771.0 161.6,775.0 162.2,770.5 163.0,773.0 163.5,774.2 164.2,779.3 165.0,781.0 165.5,782.8 166.2,782.5 167.0,785.0 167.5,783.4 168.1,782.0 168.8,783.0 169.4,783.2 170.0,781.0 170.7,779.0 171.4,777.9 172.0,779.7 172.7,778.8 173.0,779.0 173.4,779.4 174.0,781.1 174.7,778.4 175.3,777.9 176.0,778.8 176.6,778.3 177.0,778.0 177.3,780.0 177.9,776.0 178.6,772.8 179.2,773.5 179.5,773.0 179.9,773.2 180.5,775.3 181.2,778.9 181.9,779.4 182.5,782.7 183.2,779.3 183.5,784.5 183.8,783.2 184.5,783.1 185.1,781.8 185.8,775.5 186.4,774.8 187.0,774.0 187.7,775.3 188.4,773.7 189.0,772.5 189.7,773.1 190.4,777.6 191.0,779.0 191.7,776.5 192.3,776.0 193.0,772.0 193.6,775.2 194.5,770.0 194.9,771.6 195.6,771.2 196.2,772.9 196.9,775.6 197.5,780.3 198.0,779.0 198.9,786.1 199.5,787.0 200.0,792.0 200.8,791.1 201.5,789.3 202.1,792.0 202.8,790.9 203.4,792.5 204.0,792.0 204.7,789.3 205.4,787.0 206.0,784.7 206.7,783.0 207.4,777.5 208.0,778.0 208.7,778.2 209.3,779.7 210.0,783.1 210.6,779.2 211.0,781.0 211.3,780.7 211.9,783.2 212.6,782.5 213.2,784.0 214.0,782.0 214.5,780.8 215.2,782.6 215.9,787.5 216.5,789.4 217.2,787.5 217.5,789.0 217.8,786.0 218.5,787.3 219.1,784.9 220.0,785.0 220.4,785.3 221.1,784.7 221.7,786.1 222.4,786.1 223.0,786.0 223.7,784.5 224.4,782.9 225.0,778.2 225.7,776.7 226.0,776.0 226.3,777.3 227.0,775.0 227.6,776.2 228.3,774.3 229.0,775.0 229.6,776.8 230.2,779.0 230.9,779.1 231.6,781.0 232.0,782.0 232.9,783.8 233.5,786.9 234.2,783.4 235.0,788.0 235.5,784.5 236.1,786.6 236.8,781.8 237.4,782.6 238.0,781.0 238.7,780.2 239.4,779.7 240.1,778.2 240.7,779.2 241.0,778.0 241.4,777.6 242.0,780.3 242.7,780.3 243.3,780.4 244.0,780.4 244.6,779.0 245.0,781.0 245.0,781.0 245.3,781.6 245.9,780.4 246.6,779.4 247.0,777.0 247.2,778.5 247.9,774.9 248.6,776.9 249.2,774.3 250.0,774.0 250.5,771.4 251.2,775.2 252.0,770.0 252.5,770.2 253.1,765.9 254.0,765.0 254.4,764.5 255.1,766.5 255.7,764.1 256.0,767.0 256.4,769.0 257.1,764.9 257.7,772.6 258.0,770.0 258.4,768.4 259.0,771.6 259.7,767.9 260.0,769.0 260.3,770.6 261.0,767.4 261.6,768.4 262.5,765.5 262.9,767.4 263.6,765.3 264.2,768.9 265.0,769.0 265.6,768.9 266.2,768.2 267.0,768.0 267.5,766.4 268.2,768.0 268.8,765.1 269.5,768.2 270.0,765.0 270.8,770.2 271.4,766.7 272.0,769.0 272.8,768.6 273.4,769.7 274.0,768.0 274.7,769.7 275.4,770.5 276.0,772.0 276.7,777.9 277.3,789.2 278.0,797.0 278.6,791.7 279.5,778.0 279.9,780.0 280.6,771.7 281.3,775.1 281.5,770.0 281.9,775.6 282.6,786.2 283.0,792.0 283.9,784.2 284.5,777.0 285.2,775.3 286.0,771.0 286.5,774.1 287.0,766.0 287.8,769.3 288.4,766.6 289.0,770.0 289.8,768.6 290.4,772.5 291.0,773.0 291.7,781.5 292.0,780.0 292.4,774.1 293.0,777.7 293.7,775.5 294.0,775.0 294.3,778.9 295.0,775.7 295.6,787.4 296.0,790.0 296.3,786.4 296.9,785.1 297.6,777.2 298.0,775.0 298.3,777.0 298.9,770.9 299.6,770.3 300.0,769.0 300.9,766.2 301.5,762.8 302.0,761.0 302.8,763.6 303.5,767.3 304.0,768.0 304.8,773.2 305.4,773.5 306.0,777.0 306.8,770.9 307.4,776.2 308.0,770.0 308.7,770.6 309.4,763.8 310.0,768.8 310.7,765.1 311.0,767.0 311.3,769.5 312.0,767.9 312.6,777.4 313.3,776.4 314.0,780.0 314.6,775.8 315.3,773.7 316.0,768.0 316.6,767.7 317.2,765.7 317.9,767.1 318.5,762.6 319.0,764.0 319.8,769.1 320.5,774.5 321.0,777.0 321.8,777.1 322.5,769.9 323.1,772.8 323.8,768.1 324.0,768.0 324.4,769.3 325.1,768.4 325.7,774.7 326.0,773.0 326.4,772.3 327.0,774.6 327.7,771.7 328.0,775.0 328.3,777.7 329.0,770.6 329.6,772.2 330.0,771.0 330.3,768.5 331.0,771.5 331.6,767.2 332.3,768.1 333.0,766.0 333.6,769.8 334.2,770.3 335.0,777.0 335.5,776.2 336.2,777.3 336.8,777.0 337.5,777.8 338.0,777.0 338.8,779.1 339.5,773.0 340.1,778.8 340.5,779.0 340.8,770.8 341.1,766.9 341.4,797.9 342.1,809.5 342.5,835.2 343.2,746.6 344.0,767.8 344.7,751.9 345.2,765.1 346.1,812.4 346.6,820.4 347.3,815.9 347.7,824.1 348.6,772.6 348.9,755.4 349.3,781.5 349.9,813.3 350.7,862.6 351.2,820.1 351.9,795.8 352.6,748.5 353.2,767.4 353.9,788.9 354.5,787.6 355.1,780.2 355.8,786.2 356.5,780.4 356.7,779.8 357.1,801.9 357.8,818.8 358.4,849.8 358.8,862.6 359.1,830.2 359.7,776.9 360.4,696.9 361.0,770.8 361.7,831.9 362.3,808.6 363.0,757.9 363.6,730.5 364.3,780.4 364.7,821.5 365.0,800.3 365.5,745.7 366.3,792.1 366.9,816.9 367.6,862.6 368.2,777.8 369.0,684.9 369.5,705.7 370.2,764.2 370.8,794.1 371.5,837.8 372.1,797.3 372.8,769.4 373.5,726.6 373.8,708.4 374.1,729.6 374.8,751.7 375.4,790.9 375.6,762.3 376.1,768.6 376.7,790.5 377.4,801.1 378.0,818.9 378.9,767.8 379.3,768.4 380.0,756.9 380.7,783.2 381.3,763.6 381.6,766.0 382.0,823.5 382.6,813.5 383.3,814.5 383.9,798.0 384.2,797.4 384.6,787.6 385.3,757.2 385.9,768.0 386.5,765.3 387.2,789.1 387.9,786.3 388.6,775.2 389.2,766.5 389.8,795.1 390.5,801.3 391.1,771.3 391.8,732.4 392.4,751.4 393.1,754.9 393.7,782.5 394.4,774.3 394.8,790.9 395.0,790.6 395.7,778.3 396.4,774.3 397.0,770.1 397.7,804.1 398.3,817.0 398.7,828.0 399.0,815.7 399.6,775.0 400.3,754.8 401.1,714.4 401.6,763.7 402.3,815.0 402.9,781.6 403.5,737.5 403.8,727.3 404.2,740.8 404.8,733.7 405.7,748.5 405.8,778.5 406.2,775.5 406.8,782.0 407.5,772.0 408.1,776.6 408.4,771.5 408.8,772.3 409.4,786.2 410.1,782.9 410.4,797.4 410.7,787.3 411.4,758.7 411.6,755.4 412.0,779.2 412.7,805.6 413.3,849.2 414.0,794.5 414.9,728.7 415.3,730.9 416.0,758.3 416.6,760.9 417.2,786.9 417.9,772.6 418.6,763.5 418.8,753.5 419.2,752.5 419.9,758.9 420.5,746.3 421.2,769.9 421.8,745.0 422.5,771.0 423.2,766.0 423.8,777.8 424.5,775.0 425.1,786.6 425.8,771.8 426.0,787.6 426.4,794.0 427.1,758.9 427.8,760.9 428.4,769.2 429.0,798.6 429.7,800.0 430.3,822.2 431.2,688.6 431.7,736.0 432.3,797.4 433.0,799.2 433.6,779.2 434.3,794.2 434.9,781.9 435.6,796.0 435.9,788.3 436.2,759.7 436.6,754.9 436.9,781.9 437.5,800.2 438.2,838.8 438.9,731.4 439.5,750.8 440.2,761.6 440.8,794.7 441.1,799.3 441.2,736.0 441.5,731.6 442.1,754.0 442.8,747.7 443.4,777.6 444.1,779.8 444.7,806.4 445.4,801.1 446.0,820.2 446.7,716.2 447.4,730.9 448.0,729.5 448.6,741.1 449.3,752.9 450.0,782.6 450.6,788.2 451.3,821.8 451.9,833.6 452.6,787.0 453.2,736.2 453.7,706.1 453.9,711.6 454.5,716.1 455.2,736.3 456.0,747.6 456.5,747.7 457.2,736.0 457.8,745.7 458.3,736.5 458.4,800.6 459.1,776.8 459.6,752.2 460.4,766.8 461.1,746.5 461.7,757.0 462.4,757.7 462.6,772.0 463.0,788.2 463.7,756.8 464.4,776.6 465.2,764.1 465.7,774.9 466.3,783.4 466.9,794.1 467.6,765.4 467.9,758.6 468.3,774.0 468.9,781.8 469.8,804.6 470.2,772.8 470.7,741.1 471.4,804.6 472.2,800.2 472.9,781.4 473.6,771.7 474.2,770.5 474.8,782.7 475.5,768.7 476.1,782.7 476.8,782.0 477.4,794.6 478.1,776.3 478.6,791.7 479.4,798.8 480.0,811.1 480.3,813.9 480.7,793.3 481.4,779.4 482.0,742.1 482.6,729.4 483.3,762.6 484.0,801.7 484.6,780.6 485.3,789.8 485.7,773.1 486.6,784.7 487.2,771.2 487.9,783.1 488.6,773.8 489.3,767.4 490.0,770.2" fill="none" stroke="#000" stroke-width="1.8" stroke-linejoin="round"/>
<polyline points="155.0,780.0 155.7,779.4 156.3,779.7 157.0,780.0 157.7,779.2 158.3,779.4 159.0,778.0 159.6,776.4 160.3,777.9 160.9,777.7 161.6,776.6 162.2,776.9 162.9,777.3 163.5,778.4 164.2,777.7 164.9,777.0 165.5,779.3 166.2,778.5 166.8,780.1 167.5,779.6 168.1,780.3 168.8,778.8 169.4,780.0 170.1,778.5 170.7,778.8 171.4,779.2 172.0,781.7 172.7,779.8 173.4,779.4 174.0,779.3 174.7,781.1 175.3,780.1 176.0,780.7 176.6,780.7 177.3,778.8 177.9,780.8 178.6,780.2 179.2,779.3 179.9,780.9 180.5,780.5 181.2,780.4 181.9,780.6 182.5,782.0 183.2,780.7 183.8,779.5 184.5,782.6 185.1,780.2 185.8,781.1 186.4,782.0 187.1,779.4 187.7,780.7 188.4,782.8 189.0,781.6 189.7,781.2 190.4,782.1 191.0,781.3 191.7,782.1 192.3,781.4 193.0,780.7 193.6,782.9 194.3,782.1 194.9,782.9 195.6,782.3 196.2,783.7 196.9,783.2 197.5,782.8 198.2,781.8 198.9,781.6 199.5,784.2 200.2,783.7 200.8,782.3 201.5,785.0 202.1,783.5 202.8,783.1 203.4,781.7 204.1,782.3 204.7,783.3 205.4,783.4 206.0,783.3 206.7,781.4 207.4,783.4 208.0,783.3 208.7,782.6 209.3,783.1 210.0,783.2 210.6,784.1 211.3,783.0 211.9,783.4 212.6,781.7 213.2,782.1 213.9,782.7 214.5,782.0 215.2,782.9 215.9,781.4 216.5,782.5 217.2,781.8 217.8,783.6 218.5,781.9 219.1,783.9 219.8,784.2 220.4,782.4 221.1,782.9 221.7,781.7 222.4,779.4 223.1,782.5 223.7,782.1 224.4,781.1 225.0,780.7 225.7,781.3 226.3,781.2 227.0,780.1 227.6,780.2 228.3,781.6 228.9,780.5 229.6,780.3 230.2,781.2 230.9,779.8 231.6,780.8 232.2,778.8 232.9,779.5 233.5,779.5 234.2,780.1 234.8,779.6 235.5,781.4 236.1,780.4 236.8,778.8 237.4,781.2 238.1,778.1 238.7,780.6 239.4,778.0 240.1,779.5 240.7,777.8 241.4,778.3 242.0,780.0 242.7,777.1 243.3,776.8 244.0,778.3 244.6,778.4 245.3,778.2 245.9,779.0 246.6,776.7 247.2,778.1 247.9,777.3 248.6,777.8 249.2,777.4 249.9,777.8 250.5,774.9 251.2,776.1 251.8,774.7 252.5,775.4 253.1,775.9 253.8,775.2 254.4,775.2 255.1,774.4 255.7,774.5 256.4,774.2 257.1,775.1 257.7,774.3 258.4,771.6 259.0,773.8 259.7,774.0 260.3,772.4 261.0,771.1 261.6,773.8 262.3,772.3 262.9,772.6 263.6,773.5 264.2,770.8 264.9,771.4 265.6,771.1 266.2,771.8 266.9,770.5 267.5,771.5 268.2,771.0 268.8,772.0 269.5,772.1 270.1,769.4 270.8,771.3 271.4,770.4 272.1,770.7 272.8,771.1 273.4,771.2 274.1,770.0 274.7,770.9 275.4,770.7 276.0,770.5 276.7,769.3 277.3,769.7 278.0,770.0 278.6,770.9 279.3,771.7 279.9,769.3 280.6,769.3 281.3,770.4 281.9,769.7 282.6,769.4 283.2,769.3 283.9,769.2 284.5,770.5 285.2,768.5 285.8,771.3 286.5,769.1 287.1,769.6 287.8,769.2 288.4,768.2 289.1,768.6 289.8,771.4 290.4,771.9 291.1,769.4 291.7,771.3 292.4,770.3 293.0,769.5 293.7,772.1 294.3,772.6 295.0,770.2 295.6,770.4 296.3,770.8 296.9,770.7 297.6,771.8 298.3,772.6 298.9,771.4 299.6,772.4 300.2,773.2 300.9,771.2 301.5,771.9 302.2,771.6 302.8,773.2 303.5,773.0 304.1,773.5 304.8,773.6 305.4,772.6 306.1,773.8 306.8,772.8 307.4,772.9 308.1,771.3 308.7,775.0 309.4,772.8 310.0,773.9 310.7,773.9 311.3,775.5 312.0,774.7 312.6,773.6 313.3,774.5 313.9,774.5 314.6,775.0 315.3,773.7 315.9,775.0 316.6,777.4 317.2,776.1 317.9,777.6 318.5,779.1 319.2,776.5 319.8,774.8 320.5,776.3 321.1,777.7 321.8,777.7 322.5,775.8 323.1,777.0 323.8,777.3 324.4,777.6 325.1,777.7 325.7,777.1 326.4,777.5 327.0,778.0 327.7,779.4 328.3,777.9 329.0,779.3 329.6,777.6 330.3,780.1 331.0,779.1 331.6,779.1 332.3,780.6 332.9,777.6 333.6,778.0 334.2,780.1 334.9,779.0 335.5,779.5 336.2,782.7 336.8,779.9 337.5,780.4 338.1,780.3 338.8,781.6 339.5,781.0 340.1,781.0 340.8,779.7 341.4,780.8 342.1,781.3 342.7,779.9 343.4,782.3 344.0,782.3 344.7,783.9 345.3,780.7 346.0,781.5 346.6,781.7 347.3,782.2 348.0,783.0 348.6,783.0 349.3,783.7 349.9,783.9 350.6,783.8 351.2,782.5 351.9,783.6 352.5,784.4 353.2,785.0 353.8,785.2 354.5,783.1 355.1,784.3 355.8,784.9 356.5,785.4 357.1,786.3 357.8,785.4 358.4,784.6 359.1,786.0 359.7,786.0 360.4,786.1 361.0,785.9 361.7,787.5 362.3,786.0 363.0,786.5 363.6,784.6 364.3,786.1 365.0,784.6 365.6,783.5 366.3,785.3 366.9,785.4 367.6,784.5 368.2,784.6 368.9,785.4 369.5,783.8 370.2,782.1 370.8,784.3 371.5,784.2 372.1,785.0 372.8,783.5 373.5,785.0 374.1,784.8 374.8,782.3 375.4,784.5 376.1,782.4 376.7,781.9 377.4,783.1 378.0,782.7 378.7,781.2 379.3,783.4 380.0,783.7 380.7,784.4 381.3,782.8 382.0,781.1 382.6,781.4 383.3,783.1 383.9,782.7 384.6,782.1 385.2,781.0 385.9,781.3 386.5,780.6 387.2,780.2 387.8,780.6 388.5,780.1 389.2,779.5 389.8,779.6 390.5,778.7 391.1,777.1 391.8,778.3 392.4,778.7 393.1,780.4 393.7,778.2 394.4,780.5 395.0,779.8 395.7,777.4 396.3,777.5 397.0,778.3 397.7,779.8 398.3,778.3 399.0,778.5 399.6,777.1 400.3,775.3 400.9,777.3 401.6,778.2 402.2,778.5 402.9,777.3 403.5,777.3 404.2,778.2 404.8,776.8 405.5,778.0 406.2,775.6 406.8,775.5 407.5,775.4 408.1,776.9 408.8,775.8 409.4,776.4 410.1,776.5 410.7,776.4 411.4,777.2 412.0,777.1 412.7,774.5 413.3,775.3 414.0,774.6 414.7,773.5 415.3,776.1 416.0,774.8 416.6,773.6 417.3,773.1 417.9,773.6 418.6,771.9 419.2,772.5 419.9,773.7 420.5,773.1 421.2,771.1 421.8,771.4 422.5,773.6 423.2,770.2 423.8,770.8 424.5,769.9 425.1,771.6 425.8,771.4 426.4,772.1 427.1,768.2 427.7,770.8 428.4,768.9 429.0,771.1 429.7,770.1 430.4,771.8 431.0,770.4 431.7,768.9 432.3,771.1 433.0,768.7 433.6,769.4 434.3,770.7 434.9,770.1 435.6,770.0 436.2,769.5 436.9,770.0 437.5,770.2 438.2,769.6 438.9,770.3 439.5,770.5 440.2,769.1 440.8,768.1 441.5,770.6 442.1,769.1 442.8,769.8 443.4,770.2 444.1,768.4 444.7,769.9 445.4,767.9 446.0,770.3 446.7,769.2 447.4,769.9 448.0,770.5 448.7,769.2 449.3,770.0 450.0,769.3 450.6,770.0 451.3,771.1 451.9,770.0 452.6,769.8 453.2,768.8 453.9,770.6 454.5,769.7 455.2,771.3 455.9,768.9 456.5,770.6 457.2,771.2 457.8,769.4 458.5,768.1 459.1,770.7 459.8,770.2 460.4,769.8 461.1,770.1 461.7,768.6 462.4,769.8 463.0,769.6 463.7,768.3 464.4,769.6 465.0,768.4 465.7,769.8 466.3,770.0 467.0,770.6 467.6,766.8 468.3,769.0 468.9,768.4 469.6,768.6 470.2,768.4 470.9,768.5 471.5,766.5 472.2,769.5 472.9,770.0 473.5,769.4 474.2,769.7 474.8,767.5 475.5,767.4 476.1,769.2 476.8,769.6 477.4,768.5 478.1,766.7 478.7,771.0 479.4,767.5 480.0,769.1 480.7,767.0 481.4,769.2 482.0,768.5 482.7,769.9 483.3,769.5 484.0,767.2 484.6,768.0 485.3,769.4 485.9,770.0 486.6,771.2 487.2,769.8 487.9,769.6 488.6,769.8 489.2,769.9 489.9,771.1" fill="none" stroke="#f00" stroke-width="1.8" stroke-linejoin="round"/>
</g>
<rect x="138.3" y="655.1" width="368.3" height="203.9" fill="none" stroke="#222" stroke-width="1.3"/>
<line x1="134.3" y1="859.0" x2="138.3" y2="859.0" stroke="#222" stroke-width="1"/>
<text x="129.8" y="865.4" text-anchor="end" class="tk">−4</text>
<line x1="134.3" y1="818.2" x2="138.3" y2="818.2" stroke="#222" stroke-width="1"/>
<text x="129.8" y="824.6" text-anchor="end" class="tk">−2</text>
<line x1="134.3" y1="777.4" x2="138.3" y2="777.4" stroke="#222" stroke-width="1"/>
<text x="129.8" y="783.8" text-anchor="end" class="tk">0</text>
<line x1="134.3" y1="736.7" x2="138.3" y2="736.7" stroke="#222" stroke-width="1"/>
<text x="129.8" y="743.1" text-anchor="end" class="tk">2</text>
<line x1="134.3" y1="695.9" x2="138.3" y2="695.9" stroke="#222" stroke-width="1"/>
<text x="129.8" y="702.3" text-anchor="end" class="tk">4</text>
<line x1="134.3" y1="655.1" x2="138.3" y2="655.1" stroke="#222" stroke-width="1"/>
<text x="129.8" y="661.5" text-anchor="end" class="tk">6</text>
<line x1="155.0" y1="859.0" x2="155.0" y2="863.0" stroke="#222" stroke-width="1"/>
<text x="155.0" y="880.0" text-anchor="middle" class="tk">0.0</text>
<line x1="238.7" y1="859.0" x2="238.7" y2="863.0" stroke="#222" stroke-width="1"/>
<text x="238.7" y="880.0" text-anchor="middle" class="tk">0.5</text>
<line x1="322.5" y1="859.0" x2="322.5" y2="863.0" stroke="#222" stroke-width="1"/>
<text x="322.5" y="880.0" text-anchor="middle" class="tk">1.0</text>
<line x1="406.2" y1="859.0" x2="406.2" y2="863.0" stroke="#222" stroke-width="1"/>
<text x="406.2" y="880.0" text-anchor="middle" class="tk">1.5</text>
<line x1="489.9" y1="859.0" x2="489.9" y2="863.0" stroke="#222" stroke-width="1"/>
<text x="489.9" y="880.0" text-anchor="middle" class="tk">2.0</text>
<text x="322.5" y="905.4" text-anchor="middle" class="lb">Time (s)</text>
<text transform="translate(96.3,757.1) rotate(-90)" text-anchor="middle" class="lb2">Amplitude</text>
<defs><clipPath id="cp21"><rect x="627.2" y="655.1" width="368.4" height="203.9"/></clipPath></defs>
<g clip-path="url(#cp21)">
<polyline points="644.0,780.0 644.8,780.8 645.7,781.0 646.5,780.5 647.4,778.5 648.2,775.8 649.0,773.4 649.9,770.6 650.7,768.7 651.5,769.0 652.4,770.9 653.2,773.3 654.1,775.8 654.9,778.0 655.7,777.9 656.6,777.5 657.4,777.0 658.3,776.6 659.1,776.3 659.9,776.0 660.8,775.6 661.6,774.9 662.5,773.8 663.3,773.0 664.1,773.3 665.0,774.3 665.8,775.0 666.7,774.3 667.5,772.0 668.3,769.7 669.2,769.1 670.0,771.4 670.9,775.1 671.7,777.7 672.5,778.0 673.4,778.0 674.2,777.9 675.0,776.1 675.9,773.0 676.7,769.6 677.6,767.4 678.4,767.9 679.2,772.5 680.1,775.0 680.9,773.4 681.8,770.6 682.6,768.3 683.4,768.1 684.3,768.6 685.1,769.5 686.0,770.9 686.8,774.0 687.6,777.9 688.5,781.4 689.3,783.8 690.2,785.6 691.0,786.5 691.8,786.4 692.7,786.0 693.5,785.5 694.4,783.2 695.2,779.0 696.0,774.8 696.9,772.5 697.7,773.0 698.5,774.2 699.4,775.5 700.2,776.1 701.1,776.2 701.9,776.3 702.7,776.7 703.6,778.2 704.4,780.5 705.3,782.7 706.1,785.1 706.9,786.5 707.8,785.9 708.6,784.5 709.5,783.3 710.3,783.2 711.1,784.8 712.0,786.0 712.8,784.2 713.7,781.0 714.5,779.0 715.3,777.3 716.2,776.0 717.0,775.5 717.8,775.8 718.7,776.5 719.5,777.4 720.4,778.6 721.2,780.3 722.0,782.1 722.9,784.0 723.7,785.8 724.6,786.5 725.4,784.9 726.2,782.0 727.1,779.9 727.9,778.7 728.8,777.7 729.6,777.1 730.4,777.0 731.3,777.3 732.1,777.7 733.0,778.7 733.8,781.0 734.6,782.0 735.5,781.8 736.3,780.7 737.2,779.3 738.0,778.0 738.8,777.0 739.7,775.8 740.5,774.9 741.3,774.2 742.2,774.0 743.0,774.4 743.9,775.0 744.7,775.8 745.5,776.6 746.4,777.6 747.2,778.6 748.1,779.0 748.9,778.4 749.7,777.4 750.6,776.3 751.4,775.8 752.3,775.6 753.1,775.4 753.9,775.0 754.8,774.3 755.6,773.0 756.5,771.7 757.3,770.7 758.1,769.7 759.0,768.9 759.8,768.5 760.7,768.7 761.5,769.4 762.3,770.3 763.2,771.2 764.0,771.9 764.8,772.8 765.7,773.6 766.5,774.7 767.4,776.0 768.2,777.2 769.0,778.0 769.9,778.6 770.7,779.0 771.6,778.7 772.4,777.6 773.2,776.5 774.1,776.0 774.9,776.7 775.8,777.4 776.6,777.1 777.4,775.6 778.3,774.1 779.1,773.5 780.0,774.5 780.8,776.6 781.6,779.0 782.5,781.4 783.3,784.5 784.1,786.7 785.0,786.8 785.8,786.0 786.7,784.6 787.5,782.6 788.3,779.0 789.2,775.1 790.0,772.1 790.9,769.4 791.7,768.6 792.5,769.8 793.4,771.8 794.2,773.3 795.1,774.5 795.9,775.6 796.7,776.6 797.6,778.0 798.4,779.6 799.3,781.0 800.1,781.5 800.9,780.4 801.8,779.1 802.6,779.7 803.5,781.4 804.3,781.6 805.1,777.3 806.0,772.3 806.8,771.1 807.6,771.6 808.5,772.5 809.3,773.4 810.2,774.8 811.0,776.2 811.8,777.0 812.7,776.2 813.5,774.4 814.4,774.0 815.2,774.4 816.0,775.0 816.9,776.2 817.7,777.4 818.6,776.8 819.4,774.3 820.2,772.2 821.1,772.4 821.9,773.8 822.8,775.6 823.6,777.2 824.4,779.0 825.3,779.5 826.1,779.2 827.0,778.8 827.8,778.5 828.6,778.7 829.5,779.0 830.3,778.1 831.1,779.2 832.0,780.0 832.8,779.4 833.7,778.0 834.5,776.8 835.3,776.6 836.2,777.6 837.0,778.9 837.9,779.9 838.7,780.3 839.5,780.5 840.4,780.8 841.2,781.1 842.1,781.8 842.9,782.5 843.7,783.0 844.6,782.4 845.4,780.3 846.3,777.9 847.1,777.0 847.9,777.6 848.8,778.6 849.6,779.4 850.4,779.3 851.3,778.2 852.1,776.8 853.0,774.3 853.8,771.3 854.6,769.2 855.5,769.1 856.3,769.9 857.2,771.0 858.0,772.3 858.8,774.2 859.7,776.3 860.5,778.3 861.4,780.3 862.2,780.9 863.0,778.7 863.9,776.2 864.7,775.0 865.6,773.9 866.4,773.2 867.2,773.0 868.1,773.1 868.9,773.3 869.8,773.5 870.6,773.6 871.4,773.7 872.3,773.8 873.1,774.1 873.9,775.9 874.8,777.9 875.6,777.6 876.5,776.3 877.3,775.0 878.1,774.5 879.0,775.3 879.8,776.3 880.7,777.0 881.5,777.5 882.3,778.6 883.2,780.7 884.0,782.0 884.9,781.5 885.7,780.5 886.5,779.5 887.4,778.7 888.2,778.2 889.1,777.6 889.9,777.1 890.7,776.3 891.6,775.4 892.4,774.7 893.3,774.5 894.1,775.3 894.9,776.4 895.8,777.3 896.6,777.8 897.4,778.2 898.3,778.4 899.1,778.4 900.0,777.0 900.8,777.4 901.6,778.1 902.5,778.8 903.3,778.8 904.2,777.1 905.0,774.8 905.8,773.1 906.7,772.7 907.5,772.4 908.4,772.2 909.2,772.0 910.0,772.0 910.9,772.2 911.7,772.8 912.6,773.6 913.4,774.5 914.2,776.0 915.1,777.6 915.9,778.9 916.8,779.7 917.6,780.4 918.4,780.9 919.3,780.9 920.1,779.8 920.9,778.1 921.8,777.1 922.6,777.1 923.5,777.3 924.3,777.7 925.1,778.1 926.0,778.5 926.8,779.1 927.7,779.7 928.5,780.5 929.3,781.8 930.2,783.0 931.0,783.5 931.9,782.7 932.7,781.0 933.5,779.5 934.4,778.8 935.2,778.4 936.1,778.1 936.9,778.0 937.7,778.2 938.6,778.8 939.4,779.5 940.2,780.2 941.1,780.9 941.9,781.8 942.8,782.5 943.6,782.9 944.4,783.0 945.3,782.8 946.1,782.4 947.0,782.0 947.8,781.3 948.6,780.1 949.5,779.2 950.3,779.0 951.2,779.3 952.0,779.6 952.8,780.0 953.7,780.2 954.5,780.3 955.4,780.5 956.2,780.5 957.0,780.0 957.9,779.2 958.7,778.3 959.6,777.4 960.4,776.3 961.2,775.4 962.1,775.0 962.9,775.5 963.7,776.6 964.6,777.4 965.4,777.4 966.3,776.9 967.1,776.3 967.9,776.0 968.8,776.3 969.6,777.1 970.5,777.8 971.3,778.0 972.1,777.4 973.0,776.6 973.8,775.7 974.7,774.9 975.5,774.0 976.3,773.1 977.2,772.2 978.0,771.2 978.9,770.2" fill="none" stroke="#0a8585" stroke-width="1.8" stroke-linejoin="round"/>
<polyline points="643.9,780.0 644.6,779.4 645.3,779.7 645.9,780.0 646.6,779.2 647.2,779.4 647.9,778.0 648.5,776.4 649.2,777.9 649.8,777.7 650.5,776.6 651.1,776.9 651.8,777.3 652.4,778.4 653.1,777.7 653.8,777.0 654.4,779.3 655.1,778.5 655.7,780.1 656.4,779.6 657.0,780.3 657.7,778.8 658.3,780.0 659.0,778.5 659.6,778.8 660.3,779.2 661.0,781.7 661.6,779.8 662.3,779.4 662.9,779.3 663.6,781.1 664.2,780.1 664.9,780.7 665.5,780.7 666.2,778.8 666.8,780.8 667.5,780.2 668.1,779.3 668.8,780.9 669.5,780.5 670.1,780.4 670.8,780.6 671.4,782.0 672.1,780.7 672.7,779.5 673.4,782.6 674.0,780.2 674.7,781.1 675.3,782.0 676.0,779.4 676.7,780.7 677.3,782.8 678.0,781.6 678.6,781.2 679.3,782.1 679.9,781.3 680.6,782.1 681.2,781.4 681.9,780.7 682.5,782.9 683.2,782.1 683.8,782.9 684.5,782.3 685.2,783.7 685.8,783.2 686.5,782.8 687.1,781.8 687.8,781.6 688.4,784.2 689.1,783.7 689.7,782.3 690.4,785.0 691.0,783.5 691.7,783.1 692.4,781.7 693.0,782.3 693.7,783.3 694.3,783.4 695.0,783.3 695.6,781.4 696.3,783.4 696.9,783.3 697.6,782.6 698.2,783.1 698.9,783.2 699.5,784.1 700.2,783.0 700.9,783.4 701.5,781.7 702.2,782.1 702.8,782.7 703.5,782.0 704.1,782.9 704.8,781.4 705.4,782.5 706.1,781.8 706.7,783.6 707.4,781.9 708.0,783.9 708.7,784.2 709.4,782.4 710.0,782.9 710.7,781.7 711.3,779.4 712.0,782.5 712.6,782.1 713.3,781.1 713.9,780.7 714.6,781.3 715.2,781.2 715.9,780.1 716.6,780.2 717.2,781.6 717.9,780.5 718.5,780.3 719.2,781.2 719.8,779.8 720.5,780.8 721.1,778.8 721.8,779.5 722.4,779.5 723.1,780.1 723.7,779.6 724.4,781.4 725.1,780.4 725.7,778.8 726.4,781.2 727.0,778.1 727.7,780.6 728.3,778.0 729.0,779.5 729.6,777.8 730.3,778.3 730.9,780.0 731.6,777.1 732.3,776.8 732.9,778.3 733.6,778.4 734.2,778.2 734.9,779.0 735.5,776.7 736.2,778.1 736.8,777.3 737.5,777.8 738.1,777.4 738.8,777.8 739.4,774.9 740.1,776.1 740.8,774.7 741.4,775.4 742.1,775.9 742.7,775.2 743.4,775.2 744.0,774.4 744.7,774.5 745.3,774.2 746.0,775.1 746.6,774.3 747.3,771.6 748.0,773.8 748.6,774.0 749.3,772.4 749.9,771.1 750.6,773.8 751.2,772.3 751.9,772.6 752.5,773.5 753.2,770.8 753.8,771.4 754.5,771.1 755.1,771.8 755.8,770.5 756.5,771.5 757.1,771.0 757.8,772.0 758.4,772.1 759.1,769.4 759.7,771.3 760.4,770.4 761.0,770.7 761.7,771.1 762.3,771.2 763.0,770.0 763.6,770.9 764.3,770.7 765.0,770.5 765.6,769.3 766.3,769.7 766.9,770.0 767.6,770.9 768.2,771.7 768.9,769.3 769.5,769.3 770.2,770.4 770.8,769.7 771.5,769.4 772.2,769.3 772.8,769.2 773.5,770.5 774.1,768.5 774.8,771.3 775.4,769.1 776.1,769.6 776.7,769.2 777.4,768.2 778.0,768.6 778.7,771.4 779.3,771.9 780.0,769.4 780.7,771.3 781.3,770.3 782.0,769.5 782.6,772.1 783.3,772.6 783.9,770.2 784.6,770.4 785.2,770.8 785.9,770.7 786.5,771.8 787.2,772.6 787.9,771.4 788.5,772.4 789.2,773.2 789.8,771.2 790.5,771.9 791.1,771.6 791.8,773.2 792.4,773.0 793.1,773.5 793.7,773.6 794.4,772.6 795.0,773.8 795.7,772.8 796.4,772.9 797.0,771.3 797.7,775.0 798.3,772.8 799.0,773.9 799.6,773.9 800.3,775.5 800.9,774.7 801.6,773.6 802.2,774.5 802.9,774.5 803.6,775.0 804.2,773.7 804.9,775.0 805.5,777.4 806.2,776.1 806.8,777.6 807.5,779.1 808.1,776.5 808.8,774.8 809.4,776.3 810.1,777.7 810.7,777.7 811.4,775.8 812.1,777.0 812.7,777.3 813.4,777.6 814.0,777.7 814.7,777.1 815.3,777.5 816.0,778.0 816.6,779.4 817.3,777.9 817.9,779.3 818.6,777.6 819.2,780.1 819.9,779.1 820.6,779.1 821.2,780.6 821.9,777.6 822.5,778.0 823.2,780.1 823.8,779.0 824.5,779.5 825.1,782.7 825.8,779.9 826.4,780.4 827.1,780.3 827.8,781.6 828.4,781.0 829.1,781.0 829.7,779.7 830.4,780.8 831.0,781.3 831.7,779.9 832.3,782.3 833.0,782.3 833.6,783.9 834.3,780.7 834.9,781.5 835.6,781.7 836.3,782.2 836.9,783.0 837.6,783.0 838.2,783.7 838.9,783.9 839.5,783.8 840.2,782.5 840.8,783.6 841.5,784.4 842.1,785.0 842.8,785.2 843.5,783.1 844.1,784.3 844.8,784.9 845.4,785.4 846.1,786.3 846.7,785.4 847.4,784.6 848.0,786.0 848.7,786.0 849.3,786.1 850.0,785.9 850.6,787.5 851.3,786.0 852.0,786.5 852.6,784.6 853.3,786.1 853.9,784.6 854.6,783.5 855.2,785.3 855.9,785.4 856.5,784.5 857.2,784.6 857.8,785.4 858.5,783.8 859.2,782.1 859.8,784.3 860.5,784.2 861.1,785.0 861.8,783.5 862.4,785.0 863.1,784.8 863.7,782.3 864.4,784.5 865.0,782.4 865.7,781.9 866.3,783.1 867.0,782.7 867.7,781.2 868.3,783.4 869.0,783.7 869.6,784.4 870.3,782.8 870.9,781.1 871.6,781.4 872.2,783.1 872.9,782.7 873.5,782.1 874.2,781.0 874.8,781.3 875.5,780.6 876.2,780.2 876.8,780.6 877.5,780.1 878.1,779.5 878.8,779.6 879.4,778.7 880.1,777.1 880.7,778.3 881.4,778.7 882.0,780.4 882.7,778.2 883.4,780.5 884.0,779.8 884.7,777.4 885.3,777.5 886.0,778.3 886.6,779.8 887.3,778.3 887.9,778.5 888.6,777.1 889.2,775.3 889.9,777.3 890.5,778.2 891.2,778.5 891.9,777.3 892.5,777.3 893.2,778.2 893.8,776.8 894.5,778.0 895.1,775.6 895.8,775.5 896.4,775.4 897.1,776.9 897.7,775.8 898.4,776.4 899.1,776.5 899.7,776.4 900.4,777.2 901.0,777.1 901.7,774.5 902.3,775.3 903.0,774.6 903.6,773.5 904.3,776.1 904.9,774.8 905.6,773.6 906.2,773.1 906.9,773.6 907.6,771.9 908.2,772.5 908.9,773.7 909.5,773.1 910.2,771.1 910.8,771.4 911.5,773.6 912.1,770.2 912.8,770.8 913.4,769.9 914.1,771.6 914.8,771.4 915.4,772.1 916.1,768.2 916.7,770.8 917.4,768.9 918.0,771.1 918.7,770.1 919.3,771.8 920.0,770.4 920.6,768.9 921.3,771.1 921.9,768.7 922.6,769.4 923.3,770.7 923.9,770.1 924.6,770.0 925.2,769.5 925.9,770.0 926.5,770.2 927.2,769.6 927.8,770.3 928.5,770.5 929.1,769.1 929.8,768.1 930.4,770.6 931.1,769.1 931.8,769.8 932.4,770.2 933.1,768.4 933.7,769.9 934.4,767.9 935.0,770.3 935.7,769.2 936.3,769.9 937.0,770.5 937.6,769.2 938.3,770.0 939.0,769.3 939.6,770.0 940.3,771.1 940.9,770.0 941.6,769.8 942.2,768.8 942.9,770.6 943.5,769.7 944.2,771.3 944.8,768.9 945.5,770.6 946.1,771.2 946.8,769.4 947.5,768.1 948.1,770.7 948.8,770.2 949.4,769.8 950.1,770.1 950.7,768.6 951.4,769.8 952.0,769.6 952.7,768.3 953.3,769.6 954.0,768.4 954.7,769.8 955.3,770.0 956.0,770.6 956.6,766.8 957.3,769.0 957.9,768.4 958.6,768.6 959.2,768.4 959.9,768.5 960.5,766.5 961.2,769.5 961.8,770.0 962.5,769.4 963.2,769.7 963.8,767.5 964.5,767.4 965.1,769.2 965.8,769.6 966.4,768.5 967.1,766.7 967.7,771.0 968.4,767.5 969.0,769.1 969.7,767.0 970.4,769.2 971.0,768.5 971.7,769.9 972.3,769.5 973.0,767.2 973.6,768.0 974.3,769.4 974.9,770.0 975.6,771.2 976.2,769.8 976.9,769.6 977.5,769.8 978.2,769.9 978.9,771.1" fill="none" stroke="#f00" stroke-width="1.8" stroke-linejoin="round"/>
</g>
<rect x="627.2" y="655.1" width="368.4" height="203.9" fill="none" stroke="#222" stroke-width="1.3"/>
<line x1="623.2" y1="859.0" x2="627.2" y2="859.0" stroke="#222" stroke-width="1"/>
<text x="618.7" y="865.4" text-anchor="end" class="tk">−4</text>
<line x1="623.2" y1="818.2" x2="627.2" y2="818.2" stroke="#222" stroke-width="1"/>
<text x="618.7" y="824.6" text-anchor="end" class="tk">−2</text>
<line x1="623.2" y1="777.4" x2="627.2" y2="777.4" stroke="#222" stroke-width="1"/>
<text x="618.7" y="783.8" text-anchor="end" class="tk">0</text>
<line x1="623.2" y1="736.7" x2="627.2" y2="736.7" stroke="#222" stroke-width="1"/>
<text x="618.7" y="743.1" text-anchor="end" class="tk">2</text>
<line x1="623.2" y1="695.9" x2="627.2" y2="695.9" stroke="#222" stroke-width="1"/>
<text x="618.7" y="702.3" text-anchor="end" class="tk">4</text>
<line x1="623.2" y1="655.1" x2="627.2" y2="655.1" stroke="#222" stroke-width="1"/>
<text x="618.7" y="661.5" text-anchor="end" class="tk">6</text>
<line x1="643.9" y1="859.0" x2="643.9" y2="863.0" stroke="#222" stroke-width="1"/>
<text x="643.9" y="880.0" text-anchor="middle" class="tk">0.0</text>
<line x1="727.7" y1="859.0" x2="727.7" y2="863.0" stroke="#222" stroke-width="1"/>
<text x="727.7" y="880.0" text-anchor="middle" class="tk">0.5</text>
<line x1="811.4" y1="859.0" x2="811.4" y2="863.0" stroke="#222" stroke-width="1"/>
<text x="811.4" y="880.0" text-anchor="middle" class="tk">1.0</text>
<line x1="895.1" y1="859.0" x2="895.1" y2="863.0" stroke="#222" stroke-width="1"/>
<text x="895.1" y="880.0" text-anchor="middle" class="tk">1.5</text>
<line x1="978.9" y1="859.0" x2="978.9" y2="863.0" stroke="#222" stroke-width="1"/>
<text x="978.9" y="880.0" text-anchor="middle" class="tk">2.0</text>
<text x="811.4" y="905.4" text-anchor="middle" class="lb">Time (s)</text>
<text transform="translate(586.0,757.1) rotate(-90)" text-anchor="middle" class="lb2">Amplitude</text>
<defs><clipPath id="cp30"><rect x="138.3" y="978.8" width="368.3" height="203.9"/></clipPath></defs>
<g clip-path="url(#cp30)">
<polyline points="155.0,1104.7 155.7,1108.1 156.0,1110.7 156.3,1111.7 157.0,1103.4 157.7,1103.2 158.0,1102.7 158.3,1101.1 159.0,1101.9 159.6,1099.8 160.3,1095.2 161.0,1094.7 161.6,1098.7 162.2,1094.2 163.0,1096.7 163.5,1097.9 164.2,1103.0 165.0,1104.7 165.5,1106.5 166.2,1106.2 167.0,1108.7 167.5,1107.1 168.1,1105.7 168.8,1106.7 169.4,1106.9 170.0,1104.7 170.7,1102.7 171.4,1101.6 172.0,1103.4 172.7,1102.5 173.0,1102.7 173.4,1103.1 174.0,1104.8 174.7,1102.1 175.3,1101.6 176.0,1102.5 176.6,1102.0 177.0,1101.7 177.3,1103.7 177.9,1099.7 178.6,1096.5 179.2,1097.2 179.5,1096.7 179.9,1096.9 180.5,1099.0 181.2,1102.6 181.9,1103.1 182.5,1106.4 183.2,1103.0 183.5,1108.2 183.8,1106.9 184.5,1106.8 185.1,1105.5 185.8,1099.2 186.4,1098.5 187.0,1097.7 187.7,1099.0 188.4,1097.4 189.0,1096.2 189.7,1096.8 190.4,1101.3 191.0,1102.7 191.7,1100.2 192.3,1099.7 193.0,1095.7 193.6,1098.9 194.5,1093.7 194.9,1095.3 195.6,1094.9 196.2,1096.6 196.9,1099.3 197.5,1104.0 198.0,1102.7 198.9,1109.8 199.5,1110.7 200.0,1115.7 200.8,1114.8 201.5,1113.0 202.1,1115.7 202.8,1114.6 203.4,1116.2 204.0,1115.7 204.7,1113.0 205.4,1110.7 206.0,1108.4 206.7,1106.7 207.4,1101.2 208.0,1101.7 208.7,1101.9 209.3,1103.4 210.0,1106.8 210.6,1102.9 211.0,1104.7 211.3,1104.4 211.9,1106.9 212.6,1106.2 213.2,1107.7 214.0,1105.7 214.5,1104.5 215.2,1106.3 215.9,1111.2 216.5,1113.1 217.2,1111.2 217.5,1112.7 217.8,1109.7 218.5,1111.0 219.1,1108.6 220.0,1108.7 220.4,1109.0 221.1,1108.4 221.7,1109.8 222.4,1109.8 223.0,1109.7 223.7,1108.2 224.4,1106.6 225.0,1101.9 225.7,1100.4 226.0,1099.7 226.3,1101.0 227.0,1098.7 227.6,1099.9 228.3,1098.0 229.0,1098.7 229.6,1100.5 230.2,1102.7 230.9,1102.8 231.6,1104.7 232.0,1105.7 232.9,1107.5 233.5,1110.6 234.2,1107.1 235.0,1111.7 235.5,1108.2 236.1,1110.3 236.8,1105.5 237.4,1106.3 238.0,1104.7 238.7,1103.9 239.4,1103.4 240.1,1101.9 240.7,1102.9 241.0,1101.7 241.4,1101.3 242.0,1104.0 242.7,1104.0 243.3,1104.1 244.0,1104.1 244.6,1102.7 245.0,1104.7 245.0,1104.7 245.3,1105.3 245.9,1104.1 246.6,1103.1 247.0,1100.7 247.2,1102.2 247.9,1098.6 248.6,1100.6 249.2,1098.0 250.0,1097.7 250.5,1095.1 251.2,1098.9 252.0,1093.7 252.5,1093.9 253.1,1089.6 254.0,1088.7 254.4,1088.2 255.1,1090.2 255.7,1087.8 256.0,1090.7 256.4,1092.7 257.1,1088.6 257.7,1096.3 258.0,1093.7 258.4,1092.1 259.0,1095.3 259.7,1091.6 260.0,1092.7 260.3,1094.3 261.0,1091.1 261.6,1092.1 262.5,1089.2 262.9,1091.1 263.6,1089.0 264.2,1092.6 265.0,1092.7 265.6,1092.6 266.2,1091.9 267.0,1091.7 267.5,1090.1 268.2,1091.7 268.8,1088.8 269.5,1091.9 270.0,1088.7 270.8,1093.9 271.4,1090.4 272.0,1092.7 272.8,1092.3 273.4,1093.4 274.0,1091.7 274.7,1093.4 275.4,1094.2 276.0,1095.7 276.7,1101.6 277.3,1112.9 278.0,1120.7 278.6,1115.4 279.5,1101.7 279.9,1103.7 280.6,1095.4 281.3,1098.8 281.5,1093.7 281.9,1099.3 282.6,1109.9 283.0,1115.7 283.9,1107.9 284.5,1100.7 285.2,1099.0 286.0,1094.7 286.5,1097.8 287.0,1089.7 287.8,1093.0 288.4,1090.3 289.0,1093.7 289.8,1092.3 290.4,1096.2 291.0,1096.7 291.7,1105.2 292.0,1103.7 292.4,1097.8 293.0,1101.4 293.7,1099.2 294.0,1098.7 294.3,1102.6 295.0,1099.4 295.6,1111.1 296.0,1113.7 296.3,1110.1 296.9,1108.8 297.6,1100.9 298.0,1098.7 298.3,1100.7 298.9,1094.6 299.6,1094.0 300.0,1092.7 300.9,1089.9 301.5,1086.5 302.0,1084.7 302.8,1087.3 303.5,1091.0 304.0,1091.7 304.8,1096.9 305.4,1097.2 306.0,1100.7 306.8,1094.6 307.4,1099.9 308.0,1093.7 308.7,1094.3 309.4,1087.5 310.0,1092.5 310.7,1088.8 311.0,1090.7 311.3,1093.2 312.0,1091.6 312.6,1101.1 313.3,1100.1 314.0,1103.7 314.6,1099.5 315.3,1097.4 316.0,1091.7 316.6,1091.4 317.2,1089.4 317.9,1090.8 318.5,1086.3 319.0,1087.7 319.8,1092.8 320.5,1098.2 321.0,1100.7 321.8,1100.8 322.5,1093.6 323.1,1096.5 323.8,1091.8 324.0,1091.7 324.4,1093.0 325.1,1092.1 325.7,1098.4 326.0,1096.7 326.4,1096.0 327.0,1098.3 327.7,1095.4 328.0,1098.7 328.3,1101.4 329.0,1094.3 329.6,1095.9 330.0,1094.7 330.3,1092.2 331.0,1095.2 331.6,1090.9 332.3,1091.8 333.0,1089.7 333.6,1093.5 334.2,1094.0 335.0,1100.7 335.5,1099.9 336.2,1101.0 336.8,1100.7 337.5,1101.5 338.0,1100.7 338.8,1102.8 339.5,1096.7 340.1,1102.5 340.5,1102.7 340.8,1094.5 341.1,1090.6 341.4,1121.6 342.1,1133.2 342.5,1158.9 343.2,1070.3 344.0,1091.5 344.7,1075.6 345.2,1088.8 346.1,1136.1 346.6,1144.1 347.3,1139.6 347.7,1147.8 348.6,1096.3 348.9,1079.1 349.3,1105.2 349.9,1137.0 350.7,1186.3 351.2,1143.8 351.9,1119.5 352.6,1072.2 353.2,1091.1 353.9,1112.6 354.5,1111.3 355.1,1103.9 355.8,1109.9 356.5,1104.1 356.7,1103.5 357.1,1125.6 357.8,1142.5 358.4,1173.5 358.8,1186.3 359.1,1153.9 359.7,1100.6 360.4,1020.6 361.0,1094.5 361.7,1155.6 362.3,1132.3 363.0,1081.6 363.6,1054.2 364.3,1104.1 364.7,1145.2 365.0,1124.0 365.5,1069.4 366.3,1115.8 366.9,1140.6 367.6,1186.3 368.2,1101.5 369.0,1008.6 369.5,1029.4 370.2,1087.9 370.8,1117.8 371.5,1161.5 372.1,1121.0 372.8,1093.1 373.5,1050.3 373.8,1032.1 374.1,1053.3 374.8,1075.4 375.4,1114.6 375.6,1086.0 376.1,1092.3 376.7,1114.2 377.4,1124.8 378.0,1142.6 378.9,1091.5 379.3,1092.1 380.0,1080.6 380.7,1106.9 381.3,1087.3 381.6,1089.7 382.0,1147.2 382.6,1137.2 383.3,1138.2 383.9,1121.7 384.2,1121.1 384.6,1111.3 385.3,1080.9 385.9,1091.7 386.5,1089.0 387.2,1112.8 387.9,1110.0 388.6,1098.9 389.2,1090.2 389.8,1118.8 390.5,1125.0 391.1,1095.0 391.8,1056.1 392.4,1075.1 393.1,1078.6 393.7,1106.2 394.4,1098.0 394.8,1114.6 395.0,1114.3 395.7,1102.0 396.4,1098.0 397.0,1093.8 397.7,1127.8 398.3,1140.7 398.7,1151.7 399.0,1139.4 399.6,1098.7 400.3,1078.5 401.1,1038.1 401.6,1087.4 402.3,1138.7 402.9,1105.3 403.5,1061.2 403.8,1051.0 404.2,1064.5 404.8,1057.4 405.7,1072.2 405.8,1102.2 406.2,1099.2 406.8,1105.7 407.5,1095.7 408.1,1100.3 408.4,1095.2 408.8,1096.0 409.4,1109.9 410.1,1106.6 410.4,1121.1 410.7,1111.0 411.4,1082.4 411.6,1079.1 412.0,1102.9 412.7,1129.3 413.3,1172.9 414.0,1118.2 414.9,1052.4 415.3,1054.6 416.0,1082.0 416.6,1084.6 417.2,1110.6 417.9,1096.3 418.6,1087.2 418.8,1077.2 419.2,1076.2 419.9,1082.6 420.5,1070.0 421.2,1093.6 421.8,1068.7 422.5,1094.7 423.2,1089.7 423.8,1101.5 424.5,1098.7 425.1,1110.3 425.8,1095.5 426.0,1111.3 426.4,1117.7 427.1,1082.6 427.8,1084.6 428.4,1092.9 429.0,1122.3 429.7,1123.7 430.3,1145.9 431.2,1012.3 431.7,1059.7 432.3,1121.1 433.0,1122.9 433.6,1102.9 434.3,1117.9 434.9,1105.6 435.6,1119.7 435.9,1112.0 436.2,1083.4 436.6,1078.6 436.9,1105.6 437.5,1123.9 438.2,1162.5 438.9,1055.1 439.5,1074.5 440.2,1085.3 440.8,1118.4 441.1,1123.0 441.2,1059.7 441.5,1055.3 442.1,1077.7 442.8,1071.4 443.4,1101.3 444.1,1103.5 444.7,1130.1 445.4,1124.8 446.0,1143.9 446.7,1039.9 447.4,1054.6 448.0,1053.2 448.6,1064.8 449.3,1076.6 450.0,1106.3 450.6,1111.9 451.3,1145.5 451.9,1157.3 452.6,1110.7 453.2,1059.9 453.7,1029.8 453.9,1035.3 454.5,1039.8 455.2,1060.0 456.0,1071.3 456.5,1071.4 457.2,1059.7 457.8,1069.4 458.3,1060.2 458.4,1124.3 459.1,1100.5 459.6,1075.9 460.4,1090.5 461.1,1070.2 461.7,1080.7 462.4,1081.4 462.6,1095.7 463.0,1111.9 463.7,1080.5 464.4,1100.3 465.2,1087.8 465.7,1098.6 466.3,1107.1 466.9,1117.8 467.6,1089.1 467.9,1082.3 468.3,1097.7 468.9,1105.5 469.8,1128.3 470.2,1096.5 470.7,1064.8 471.4,1128.3 472.2,1123.9 472.9,1105.1 473.6,1095.4 474.2,1094.2 474.8,1106.4 475.5,1092.4 476.1,1106.4 476.8,1105.7 477.4,1118.3 478.1,1100.0 478.6,1115.4 479.4,1122.5 480.0,1134.8 480.3,1137.6 480.7,1117.0 481.4,1103.1 482.0,1065.8 482.6,1053.1 483.3,1086.3 484.0,1125.4 484.6,1104.3 485.3,1113.5 485.7,1096.8 486.6,1108.4 487.2,1094.9 487.9,1106.8 488.6,1097.5 489.3,1091.1 490.0,1093.9" fill="none" stroke="#000" stroke-width="1.8" stroke-linejoin="round"/>
<polyline points="155.0,1105.4 155.7,1108.3 156.3,1109.4 157.0,1107.3 157.7,1104.9 158.3,1103.2 159.0,1101.8 159.6,1099.6 160.3,1097.0 160.9,1096.0 161.6,1096.3 162.2,1095.9 162.9,1096.5 163.5,1098.5 164.2,1101.0 164.9,1103.2 165.5,1104.9 166.2,1106.2 166.8,1107.2 167.5,1106.9 168.1,1106.2 168.8,1106.0 169.4,1105.4 170.1,1104.2 170.7,1102.9 171.4,1102.3 172.0,1102.3 172.7,1102.1 173.4,1102.2 174.0,1102.3 174.7,1101.7 175.3,1101.5 176.0,1101.8 176.6,1102.3 177.3,1102.0 177.9,1100.3 178.6,1098.3 179.2,1097.4 179.9,1097.4 180.5,1098.9 181.2,1101.4 181.9,1104.1 182.5,1105.9 183.2,1106.4 183.8,1106.9 184.5,1106.8 185.1,1104.9 185.8,1102.1 186.4,1100.1 187.1,1099.0 187.7,1098.1 188.4,1096.9 189.0,1096.2 189.7,1097.4 190.4,1100.2 191.0,1102.1 191.7,1101.8 192.3,1100.1 193.0,1098.0 193.6,1096.2 194.3,1094.7 194.9,1094.1 195.6,1094.7 196.2,1096.2 196.9,1098.8 197.5,1101.9 198.2,1105.0 198.9,1108.6 199.5,1112.1 200.2,1114.5 200.8,1115.1 201.5,1114.8 202.1,1115.0 202.8,1115.1 203.4,1115.0 204.1,1114.0 204.7,1111.8 205.4,1109.1 206.0,1106.6 206.7,1104.2 207.4,1102.1 208.0,1101.4 208.7,1101.8 209.3,1102.9 210.0,1103.6 210.6,1103.3 211.3,1103.6 211.9,1104.7 212.6,1105.4 213.2,1105.7 213.9,1105.6 214.5,1105.5 215.2,1107.0 215.9,1109.5 216.5,1111.0 217.2,1110.7 217.8,1110.2 218.5,1109.7 219.1,1108.7 219.8,1108.1 220.4,1108.1 221.1,1108.5 221.7,1109.1 222.4,1109.4 223.1,1109.0 223.7,1107.7 224.4,1105.5 225.0,1103.0 225.7,1101.3 226.3,1100.6 227.0,1099.8 227.6,1099.3 228.3,1098.9 228.9,1099.0 229.6,1100.3 230.2,1101.8 230.9,1103.0 231.6,1104.3 232.2,1105.8 232.9,1107.4 233.5,1108.6 234.2,1109.0 234.8,1109.5 235.5,1109.5 236.1,1108.6 236.8,1107.0 237.4,1105.6 238.1,1104.5 238.7,1103.3 239.4,1102.3 240.1,1101.6 240.7,1101.5 241.4,1101.8 242.0,1102.7 242.7,1103.4 243.3,1103.8 244.0,1103.8 244.6,1104.0 245.3,1104.6 245.9,1104.2 246.6,1103.0 247.2,1101.5 247.9,1100.1 248.6,1099.5 249.2,1098.8 249.9,1097.9 250.5,1097.4 251.2,1097.2 251.8,1095.7 252.5,1093.2 253.1,1090.7 253.8,1089.7 254.4,1090.0 255.1,1090.7 255.7,1091.6 256.4,1092.5 257.1,1093.6 257.7,1094.9 258.4,1095.5 259.0,1095.3 259.7,1094.9 260.3,1094.4 261.0,1093.7 261.6,1093.0 262.3,1092.3 262.9,1091.7 263.6,1091.8 264.2,1092.7 264.9,1093.7 265.6,1093.9 266.2,1093.8 266.9,1093.3 267.5,1092.9 268.2,1092.5 268.8,1092.0 269.5,1091.8 270.1,1091.9 270.8,1092.2 271.4,1092.4 272.1,1092.9 272.8,1093.7 273.4,1093.9 274.1,1093.9 274.7,1094.3 275.4,1095.1 276.0,1096.9 276.7,1101.2 277.3,1108.1 278.0,1112.5 278.6,1110.8 279.3,1105.8 279.9,1100.6 280.6,1097.7 281.3,1097.8 281.9,1100.9 282.6,1105.7 283.2,1108.2 283.9,1105.9 284.5,1101.9 285.2,1098.6 285.8,1096.4 286.5,1094.5 287.1,1092.6 287.8,1091.8 288.4,1092.0 289.1,1092.6 289.8,1093.5 290.4,1095.0 291.1,1097.6 291.7,1099.7 292.4,1099.9 293.0,1100.3 293.7,1101.6 294.3,1102.8 295.0,1105.1 295.6,1108.5 296.3,1109.8 296.9,1107.7 297.6,1104.2 298.3,1100.9 298.9,1097.9 299.6,1095.4 300.2,1093.2 300.9,1090.4 301.5,1087.9 302.2,1086.7 302.8,1087.6 303.5,1089.7 304.1,1092.4 304.8,1094.9 305.4,1097.3 306.1,1098.6 306.8,1098.7 307.4,1098.5 308.1,1097.4 308.7,1095.3 309.4,1093.8 310.0,1093.4 310.7,1093.3 311.3,1093.3 312.0,1094.5 312.6,1096.7 313.3,1099.6 313.9,1101.2 314.6,1100.8 315.3,1097.9 315.9,1093.8 316.6,1091.3 317.2,1090.2 317.9,1089.4 318.5,1088.4 319.2,1088.9 319.8,1091.8 320.5,1095.5 321.1,1098.9 321.8,1099.6 322.5,1097.9 323.1,1096.5 323.8,1095.0 324.4,1093.8 325.1,1094.4 325.7,1096.1 326.4,1097.2 327.0,1097.6 327.7,1098.2 328.3,1098.4 329.0,1097.3 329.6,1096.2 330.3,1095.7 331.0,1095.3 331.6,1094.4 332.3,1093.8 332.9,1094.2 333.6,1095.8 334.2,1098.3 334.9,1100.8 335.5,1102.6 336.2,1103.4 336.8,1103.2 337.5,1102.7 338.1,1102.1 338.8,1101.8 339.5,1102.2 340.1,1104.2 340.8,1104.4 341.4,1105.9 342.1,1104.7 342.7,1107.7 343.4,1103.7 344.0,1106.6 344.7,1098.7 345.3,1101.7 346.0,1101.3 346.6,1104.7 347.3,1101.0 348.0,1105.5 348.6,1102.0 349.3,1104.8 349.9,1099.7 350.6,1101.8 351.2,1099.7 351.9,1099.6 352.5,1097.1 353.2,1102.0 353.8,1100.0 354.5,1105.2 355.1,1102.3 355.8,1106.6 356.5,1101.6 357.1,1103.7 357.8,1103.2 358.4,1107.0 359.1,1107.8 359.7,1111.1 360.4,1106.5 361.0,1107.6 361.7,1102.8 362.3,1104.1 363.0,1100.1 363.6,1103.3 364.3,1101.0 365.0,1104.2 365.6,1101.5 366.3,1106.2 366.9,1104.7 367.6,1107.8 368.2,1104.6 368.9,1105.3 369.5,1096.7 370.2,1100.9 370.8,1097.6 371.5,1101.7 372.1,1101.2 372.8,1104.6 373.5,1102.0 374.1,1105.5 374.8,1100.9 375.4,1102.9 376.1,1100.6 376.7,1103.1 377.4,1100.7 378.0,1103.2 378.7,1103.1 379.3,1106.8 380.0,1102.6 380.7,1106.0 381.3,1104.3 382.0,1104.8 382.6,1102.1 383.3,1104.3 383.9,1101.5 384.6,1101.5 385.2,1099.2 385.9,1101.6 386.5,1099.0 387.2,1106.4 387.8,1103.9 388.5,1106.3 389.2,1105.2 389.8,1108.3 390.5,1106.0 391.1,1105.2 391.8,1099.2 392.4,1098.4 393.1,1095.0 393.7,1101.5 394.4,1099.8 395.0,1104.3 395.7,1104.1 396.3,1109.6 397.0,1110.0 397.7,1115.2 398.3,1110.8 399.0,1111.1 399.6,1106.4 400.3,1107.0 400.9,1104.0 401.6,1104.4 402.2,1103.2 402.9,1104.6 403.5,1098.9 404.2,1100.9 404.8,1097.2 405.5,1098.3 406.2,1096.9 406.8,1100.9 407.5,1099.4 408.1,1102.1 408.8,1099.3 409.4,1102.5 410.1,1100.0 410.7,1103.4 411.4,1099.7 412.0,1104.2 412.7,1103.7 413.3,1108.4 414.0,1101.5 414.7,1100.2 415.3,1097.1 416.0,1097.8 416.6,1092.5 417.3,1097.3 417.9,1093.2 418.6,1094.6 419.2,1094.7 419.9,1100.8 420.5,1097.4 421.2,1098.2 421.8,1094.8 422.5,1096.1 423.2,1094.2 423.8,1098.1 424.5,1093.8 425.1,1097.2 425.8,1099.1 426.4,1104.0 427.1,1104.5 427.7,1106.8 428.4,1106.3 429.0,1109.2 429.7,1106.7 430.4,1106.6 431.0,1098.6 431.7,1096.7 432.3,1094.7 433.0,1098.2 433.6,1096.4 434.3,1099.9 434.9,1096.5 435.6,1102.2 436.2,1098.0 436.9,1101.4 437.5,1098.2 438.2,1099.4 438.9,1094.6 439.5,1098.3 440.2,1096.0 440.8,1099.6 441.5,1093.9 442.1,1099.6 442.8,1098.1 443.4,1102.4 444.1,1099.6 444.7,1100.6 445.4,1098.2 446.0,1098.8 446.7,1092.3 447.4,1092.1 448.0,1087.1 448.7,1092.3 449.3,1094.1 450.0,1102.6 450.6,1101.2 451.3,1102.2 451.9,1095.5 452.6,1093.3 453.2,1088.4 453.9,1089.9 454.5,1087.3 455.2,1096.7 455.9,1094.1 456.5,1097.4 457.2,1094.5 457.8,1099.9 458.5,1098.7 459.1,1101.4 459.8,1097.2 460.4,1097.2 461.1,1093.3 461.7,1094.6 462.4,1093.6 463.0,1094.4 463.7,1094.3 464.4,1096.2 465.0,1094.9 465.7,1097.7 466.3,1098.3 467.0,1101.5 467.6,1102.1 468.3,1103.7 468.9,1097.9 469.6,1101.3 470.2,1093.6 470.9,1093.6 471.5,1092.9 472.2,1095.9 472.9,1097.4 473.5,1100.3 474.2,1099.2 474.8,1100.8 475.5,1098.5 476.1,1100.5 476.8,1097.6 477.4,1102.9 478.1,1100.6 478.7,1104.7 479.4,1104.8 480.0,1110.0 480.7,1107.0 481.4,1106.7 482.0,1100.9 482.7,1104.9 483.3,1098.3 484.0,1101.4 484.6,1100.4 485.3,1104.5 485.9,1101.2 486.6,1101.8 487.2,1098.7 487.9,1100.8 488.6,1095.4 489.2,1097.3 489.9,1092.8" fill="none" stroke="#f00" stroke-width="1.8" stroke-linejoin="round"/>
</g>
<rect x="138.3" y="978.8" width="368.3" height="203.9" fill="none" stroke="#222" stroke-width="1.3"/>
<line x1="134.3" y1="1182.7" x2="138.3" y2="1182.7" stroke="#222" stroke-width="1"/>
<text x="129.8" y="1189.1" text-anchor="end" class="tk">−4</text>
<line x1="134.3" y1="1141.9" x2="138.3" y2="1141.9" stroke="#222" stroke-width="1"/>
<text x="129.8" y="1148.3" text-anchor="end" class="tk">−2</text>
<line x1="134.3" y1="1101.1" x2="138.3" y2="1101.1" stroke="#222" stroke-width="1"/>
<text x="129.8" y="1107.5" text-anchor="end" class="tk">0</text>
<line x1="134.3" y1="1060.4" x2="138.3" y2="1060.4" stroke="#222" stroke-width="1"/>
<text x="129.8" y="1066.8" text-anchor="end" class="tk">2</text>
<line x1="134.3" y1="1019.6" x2="138.3" y2="1019.6" stroke="#222" stroke-width="1"/>
<text x="129.8" y="1026.0" text-anchor="end" class="tk">4</text>
<line x1="134.3" y1="978.8" x2="138.3" y2="978.8" stroke="#222" stroke-width="1"/>
<text x="129.8" y="985.2" text-anchor="end" class="tk">6</text>
<line x1="155.0" y1="1182.7" x2="155.0" y2="1186.7" stroke="#222" stroke-width="1"/>
<text x="155.0" y="1203.7" text-anchor="middle" class="tk">0.0</text>
<line x1="238.7" y1="1182.7" x2="238.7" y2="1186.7" stroke="#222" stroke-width="1"/>
<text x="238.7" y="1203.7" text-anchor="middle" class="tk">0.5</text>
<line x1="322.5" y1="1182.7" x2="322.5" y2="1186.7" stroke="#222" stroke-width="1"/>
<text x="322.5" y="1203.7" text-anchor="middle" class="tk">1.0</text>
<line x1="406.2" y1="1182.7" x2="406.2" y2="1186.7" stroke="#222" stroke-width="1"/>
<text x="406.2" y="1203.7" text-anchor="middle" class="tk">1.5</text>
<line x1="489.9" y1="1182.7" x2="489.9" y2="1186.7" stroke="#222" stroke-width="1"/>
<text x="489.9" y="1203.7" text-anchor="middle" class="tk">2.0</text>
<text x="322.5" y="1229.1" text-anchor="middle" class="lb">Time (s)</text>
<text transform="translate(96.3,1080.8) rotate(-90)" text-anchor="middle" class="lb2">Amplitude</text>
<defs><clipPath id="cp31"><rect x="627.2" y="978.8" width="368.4" height="203.9"/></clipPath></defs>
<g clip-path="url(#cp31)">
<polyline points="644.0,1103.7 644.8,1104.5 645.7,1104.7 646.5,1104.2 647.4,1102.2 648.2,1099.5 649.0,1097.1 649.9,1094.3 650.7,1092.4 651.5,1092.7 652.4,1094.6 653.2,1097.0 654.1,1099.5 654.9,1101.7 655.7,1101.6 656.6,1101.2 657.4,1100.7 658.3,1100.3 659.1,1100.0 659.9,1099.7 660.8,1099.3 661.6,1098.6 662.5,1097.5 663.3,1096.7 664.1,1097.0 665.0,1098.0 665.8,1098.7 666.7,1098.0 667.5,1095.7 668.3,1093.4 669.2,1092.8 670.0,1095.1 670.9,1098.8 671.7,1101.4 672.5,1101.7 673.4,1101.7 674.2,1101.6 675.0,1099.8 675.9,1096.7 676.7,1093.3 677.6,1091.1 678.4,1091.6 679.2,1096.2 680.1,1098.7 680.9,1097.1 681.8,1094.3 682.6,1092.0 683.4,1091.8 684.3,1092.3 685.1,1093.2 686.0,1094.6 686.8,1097.7 687.6,1101.6 688.5,1105.1 689.3,1107.5 690.2,1109.3 691.0,1110.2 691.8,1110.1 692.7,1109.7 693.5,1109.2 694.4,1106.9 695.2,1102.7 696.0,1098.5 696.9,1096.2 697.7,1096.7 698.5,1097.9 699.4,1099.2 700.2,1099.8 701.1,1099.9 701.9,1100.0 702.7,1100.4 703.6,1101.9 704.4,1104.2 705.3,1106.4 706.1,1108.8 706.9,1110.2 707.8,1109.6 708.6,1108.2 709.5,1107.0 710.3,1106.9 711.1,1108.5 712.0,1109.7 712.8,1107.9 713.7,1104.7 714.5,1102.7 715.3,1101.0 716.2,1099.7 717.0,1099.2 717.8,1099.5 718.7,1100.2 719.5,1101.1 720.4,1102.3 721.2,1104.0 722.0,1105.8 722.9,1107.7 723.7,1109.5 724.6,1110.2 725.4,1108.6 726.2,1105.7 727.1,1103.6 727.9,1102.4 728.8,1101.4 729.6,1100.8 730.4,1100.7 731.3,1101.0 732.1,1101.4 733.0,1102.4 733.8,1104.7 734.6,1105.7 735.5,1105.5 736.3,1104.4 737.2,1103.0 738.0,1101.7 738.8,1100.7 739.7,1099.5 740.5,1098.6 741.3,1097.9 742.2,1097.7 743.0,1098.1 743.9,1098.7 744.7,1099.5 745.5,1100.3 746.4,1101.3 747.2,1102.3 748.1,1102.7 748.9,1102.1 749.7,1101.1 750.6,1100.0 751.4,1099.5 752.3,1099.3 753.1,1099.1 753.9,1098.7 754.8,1098.0 755.6,1096.7 756.5,1095.4 757.3,1094.4 758.1,1093.4 759.0,1092.6 759.8,1092.2 760.7,1092.4 761.5,1093.1 762.3,1094.0 763.2,1094.9 764.0,1095.6 764.8,1096.5 765.7,1097.3 766.5,1098.4 767.4,1099.7 768.2,1100.9 769.0,1101.7 769.9,1102.3 770.7,1102.7 771.6,1102.4 772.4,1101.3 773.2,1100.2 774.1,1099.7 774.9,1100.4 775.8,1101.1 776.6,1100.8 777.4,1099.3 778.3,1097.8 779.1,1097.2 780.0,1098.2 780.8,1100.3 781.6,1102.7 782.5,1105.1 783.3,1108.2 784.1,1110.4 785.0,1110.5 785.8,1109.7 786.7,1108.3 787.5,1106.3 788.3,1102.7 789.2,1098.8 790.0,1095.8 790.9,1093.1 791.7,1092.3 792.5,1093.5 793.4,1095.5 794.2,1097.0 795.1,1098.2 795.9,1099.3 796.7,1100.3 797.6,1101.7 798.4,1103.3 799.3,1104.7 800.1,1105.2 800.9,1104.1 801.8,1102.8 802.6,1103.4 803.5,1105.1 804.3,1105.3 805.1,1101.0 806.0,1096.0 806.8,1094.8 807.6,1095.3 808.5,1096.2 809.3,1097.1 810.2,1098.5 811.0,1099.9 811.8,1100.7 812.7,1099.9 813.5,1098.1 814.4,1097.7 815.2,1098.1 816.0,1098.7 816.9,1099.9 817.7,1101.1 818.6,1100.5 819.4,1098.0 820.2,1095.9 821.1,1096.1 821.9,1097.5 822.8,1099.3 823.6,1100.9 824.4,1102.7 825.3,1103.2 826.1,1102.9 827.0,1102.5 827.8,1102.2 828.6,1102.4 829.5,1102.7 830.3,1101.8 831.1,1102.9 832.0,1103.7 832.8,1103.1 833.7,1101.7 834.5,1100.5 835.3,1100.3 836.2,1101.3 837.0,1102.6 837.9,1103.6 838.7,1104.0 839.5,1104.2 840.4,1104.5 841.2,1104.8 842.1,1105.5 842.9,1106.2 843.7,1106.7 844.6,1106.1 845.4,1104.0 846.3,1101.6 847.1,1100.7 847.9,1101.3 848.8,1102.3 849.6,1103.1 850.4,1103.0 851.3,1101.9 852.1,1100.5 853.0,1098.0 853.8,1095.0 854.6,1092.9 855.5,1092.8 856.3,1093.6 857.2,1094.7 858.0,1096.0 858.8,1097.9 859.7,1100.0 860.5,1102.0 861.4,1104.0 862.2,1104.6 863.0,1102.4 863.9,1099.9 864.7,1098.7 865.6,1097.6 866.4,1096.9 867.2,1096.7 868.1,1096.8 868.9,1097.0 869.8,1097.2 870.6,1097.3 871.4,1097.4 872.3,1097.5 873.1,1097.8 873.9,1099.6 874.8,1101.6 875.6,1101.3 876.5,1100.0 877.3,1098.7 878.1,1098.2 879.0,1099.0 879.8,1100.0 880.7,1100.7 881.5,1101.2 882.3,1102.3 883.2,1104.4 884.0,1105.7 884.9,1105.2 885.7,1104.2 886.5,1103.2 887.4,1102.4 888.2,1101.9 889.1,1101.3 889.9,1100.8 890.7,1100.0 891.6,1099.1 892.4,1098.4 893.3,1098.2 894.1,1099.0 894.9,1100.1 895.8,1101.0 896.6,1101.5 897.4,1101.9 898.3,1102.1 899.1,1102.1 900.0,1100.7 900.8,1101.1 901.6,1101.8 902.5,1102.5 903.3,1102.5 904.2,1100.8 905.0,1098.5 905.8,1096.8 906.7,1096.4 907.5,1096.1 908.4,1095.9 909.2,1095.7 910.0,1095.7 910.9,1095.9 911.7,1096.5 912.6,1097.3 913.4,1098.2 914.2,1099.7 915.1,1101.3 915.9,1102.6 916.8,1103.4 917.6,1104.1 918.4,1104.6 919.3,1104.6 920.1,1103.5 920.9,1101.8 921.8,1100.8 922.6,1100.8 923.5,1101.0 924.3,1101.4 925.1,1101.8 926.0,1102.2 926.8,1102.8 927.7,1103.4 928.5,1104.2 929.3,1105.5 930.2,1106.7 931.0,1107.2 931.9,1106.4 932.7,1104.7 933.5,1103.2 934.4,1102.5 935.2,1102.1 936.1,1101.8 936.9,1101.7 937.7,1101.9 938.6,1102.5 939.4,1103.2 940.2,1103.9 941.1,1104.6 941.9,1105.5 942.8,1106.2 943.6,1106.6 944.4,1106.7 945.3,1106.5 946.1,1106.1 947.0,1105.7 947.8,1105.0 948.6,1103.8 949.5,1102.9 950.3,1102.7 951.2,1103.0 952.0,1103.3 952.8,1103.7 953.7,1103.9 954.5,1104.0 955.4,1104.2 956.2,1104.2 957.0,1103.7 957.9,1102.9 958.7,1102.0 959.6,1101.1 960.4,1100.0 961.2,1099.1 962.1,1098.7 962.9,1099.2 963.7,1100.3 964.6,1101.1 965.4,1101.1 966.3,1100.6 967.1,1100.0 967.9,1099.7 968.8,1100.0 969.6,1100.8 970.5,1101.5 971.3,1101.7 972.1,1101.1 973.0,1100.3 973.8,1099.4 974.7,1098.6 975.5,1097.7 976.3,1096.8 977.2,1095.9 978.0,1094.9 978.9,1093.9" fill="none" stroke="#0a8585" stroke-width="1.8" stroke-linejoin="round"/>
<polyline points="643.9,1105.4 644.6,1108.3 645.3,1109.4 645.9,1107.3 646.6,1104.9 647.2,1103.2 647.9,1101.8 648.5,1099.6 649.2,1097.0 649.8,1096.0 650.5,1096.3 651.1,1095.9 651.8,1096.5 652.4,1098.5 653.1,1101.0 653.8,1103.2 654.4,1104.9 655.1,1106.2 655.7,1107.2 656.4,1106.9 657.0,1106.2 657.7,1106.0 658.3,1105.4 659.0,1104.2 659.6,1102.9 660.3,1102.3 661.0,1102.3 661.6,1102.1 662.3,1102.2 662.9,1102.3 663.6,1101.7 664.2,1101.5 664.9,1101.8 665.5,1102.3 666.2,1102.0 666.8,1100.3 667.5,1098.3 668.1,1097.4 668.8,1097.4 669.5,1098.9 670.1,1101.4 670.8,1104.1 671.4,1105.9 672.1,1106.4 672.7,1106.9 673.4,1106.8 674.0,1104.9 674.7,1102.1 675.3,1100.1 676.0,1099.0 676.7,1098.1 677.3,1096.9 678.0,1096.2 678.6,1097.4 679.3,1100.2 679.9,1102.1 680.6,1101.8 681.2,1100.1 681.9,1098.0 682.5,1096.2 683.2,1094.7 683.8,1094.1 684.5,1094.7 685.2,1096.2 685.8,1098.8 686.5,1101.9 687.1,1105.0 687.8,1108.6 688.4,1112.1 689.1,1114.5 689.7,1115.1 690.4,1114.8 691.0,1115.0 691.7,1115.1 692.4,1115.0 693.0,1114.0 693.7,1111.8 694.3,1109.1 695.0,1106.6 695.6,1104.2 696.3,1102.1 696.9,1101.4 697.6,1101.8 698.2,1102.9 698.9,1103.6 699.5,1103.3 700.2,1103.6 700.9,1104.7 701.5,1105.4 702.2,1105.7 702.8,1105.6 703.5,1105.5 704.1,1107.0 704.8,1109.5 705.4,1111.0 706.1,1110.7 706.7,1110.2 707.4,1109.7 708.0,1108.7 708.7,1108.1 709.4,1108.1 710.0,1108.5 710.7,1109.1 711.3,1109.4 712.0,1109.0 712.6,1107.7 713.3,1105.5 713.9,1103.0 714.6,1101.3 715.2,1100.6 715.9,1099.8 716.6,1099.3 717.2,1098.9 717.9,1099.0 718.5,1100.3 719.2,1101.8 719.8,1103.0 720.5,1104.3 721.1,1105.8 721.8,1107.4 722.4,1108.6 723.1,1109.0 723.7,1109.5 724.4,1109.5 725.1,1108.6 725.7,1107.0 726.4,1105.6 727.0,1104.5 727.7,1103.3 728.3,1102.3 729.0,1101.6 729.6,1101.5 730.3,1101.8 730.9,1102.7 731.6,1103.4 732.3,1103.8 732.9,1103.8 733.6,1104.0 734.2,1104.6 734.9,1104.2 735.5,1103.0 736.2,1101.5 736.8,1100.1 737.5,1099.5 738.1,1098.8 738.8,1097.9 739.4,1097.4 740.1,1097.2 740.8,1095.7 741.4,1093.2 742.1,1090.7 742.7,1089.7 743.4,1090.0 744.0,1090.7 744.7,1091.6 745.3,1092.5 746.0,1093.6 746.6,1094.9 747.3,1095.5 748.0,1095.3 748.6,1094.9 749.3,1094.4 749.9,1093.7 750.6,1093.0 751.2,1092.3 751.9,1091.7 752.5,1091.8 753.2,1092.7 753.8,1093.7 754.5,1093.9 755.1,1093.8 755.8,1093.3 756.5,1092.9 757.1,1092.5 757.8,1092.0 758.4,1091.8 759.1,1091.9 759.7,1092.2 760.4,1092.4 761.0,1092.9 761.7,1093.7 762.3,1093.9 763.0,1093.9 763.6,1094.3 764.3,1095.1 765.0,1096.9 765.6,1101.2 766.3,1108.1 766.9,1112.5 767.6,1110.8 768.2,1105.8 768.9,1100.6 769.5,1097.7 770.2,1097.8 770.8,1100.9 771.5,1105.7 772.2,1108.2 772.8,1105.9 773.5,1101.9 774.1,1098.6 774.8,1096.4 775.4,1094.5 776.1,1092.6 776.7,1091.8 777.4,1092.0 778.0,1092.6 778.7,1093.5 779.3,1095.0 780.0,1097.6 780.7,1099.7 781.3,1099.9 782.0,1100.3 782.6,1101.6 783.3,1102.8 783.9,1105.1 784.6,1108.5 785.2,1109.8 785.9,1107.7 786.5,1104.2 787.2,1100.9 787.9,1097.9 788.5,1095.4 789.2,1093.2 789.8,1090.4 790.5,1087.9 791.1,1086.7 791.8,1087.6 792.4,1089.7 793.1,1092.4 793.7,1094.9 794.4,1097.3 795.0,1098.6 795.7,1098.7 796.4,1098.5 797.0,1097.4 797.7,1095.3 798.3,1093.8 799.0,1093.4 799.6,1093.3 800.3,1093.3 800.9,1094.5 801.6,1096.7 802.2,1099.6 802.9,1101.2 803.6,1100.8 804.2,1097.9 804.9,1093.8 805.5,1091.3 806.2,1090.2 806.8,1089.4 807.5,1088.4 808.1,1088.9 808.8,1091.8 809.4,1095.5 810.1,1098.9 810.7,1099.6 811.4,1097.9 812.1,1096.5 812.7,1095.0 813.4,1093.8 814.0,1094.4 814.7,1096.1 815.3,1097.2 816.0,1097.6 816.6,1098.2 817.3,1098.4 817.9,1097.3 818.6,1096.2 819.2,1095.7 819.9,1095.3 820.6,1094.4 821.2,1093.8 821.9,1094.2 822.5,1095.8 823.2,1098.3 823.8,1100.8 824.5,1102.6 825.1,1103.4 825.8,1103.2 826.4,1102.7 827.1,1102.1 827.8,1101.8 828.4,1102.2 829.1,1104.2 829.7,1104.4 830.4,1105.9 831.0,1104.7 831.7,1107.7 832.3,1103.7 833.0,1106.6 833.6,1098.7 834.3,1101.7 834.9,1101.3 835.6,1104.7 836.3,1101.0 836.9,1105.5 837.6,1102.0 838.2,1104.8 838.9,1099.7 839.5,1101.8 840.2,1099.7 840.8,1099.6 841.5,1097.1 842.1,1102.0 842.8,1100.0 843.5,1105.2 844.1,1102.3 844.8,1106.6 845.4,1101.6 846.1,1103.7 846.7,1103.2 847.4,1107.0 848.0,1107.8 848.7,1111.1 849.3,1106.5 850.0,1107.6 850.6,1102.8 851.3,1104.1 852.0,1100.1 852.6,1103.3 853.3,1101.0 853.9,1104.2 854.6,1101.5 855.2,1106.2 855.9,1104.7 856.5,1107.8 857.2,1104.6 857.8,1105.3 858.5,1096.7 859.2,1100.9 859.8,1097.6 860.5,1101.7 861.1,1101.2 861.8,1104.6 862.4,1102.0 863.1,1105.5 863.7,1100.9 864.4,1102.9 865.0,1100.6 865.7,1103.1 866.3,1100.7 867.0,1103.2 867.7,1103.1 868.3,1106.8 869.0,1102.6 869.6,1106.0 870.3,1104.3 870.9,1104.8 871.6,1102.1 872.2,1104.3 872.9,1101.5 873.5,1101.5 874.2,1099.2 874.8,1101.6 875.5,1099.0 876.2,1106.4 876.8,1103.9 877.5,1106.3 878.1,1105.2 878.8,1108.3 879.4,1106.0 880.1,1105.2 880.7,1099.2 881.4,1098.4 882.0,1095.0 882.7,1101.5 883.4,1099.8 884.0,1104.3 884.7,1104.1 885.3,1109.6 886.0,1110.0 886.6,1115.2 887.3,1110.8 887.9,1111.1 888.6,1106.4 889.2,1107.0 889.9,1104.0 890.5,1104.4 891.2,1103.2 891.9,1104.6 892.5,1098.9 893.2,1100.9 893.8,1097.2 894.5,1098.3 895.1,1096.9 895.8,1100.9 896.4,1099.4 897.1,1102.1 897.7,1099.3 898.4,1102.5 899.1,1100.0 899.7,1103.4 900.4,1099.7 901.0,1104.2 901.7,1103.7 902.3,1108.4 903.0,1101.5 903.6,1100.2 904.3,1097.1 904.9,1097.8 905.6,1092.5 906.2,1097.3 906.9,1093.2 907.6,1094.6 908.2,1094.7 908.9,1100.8 909.5,1097.4 910.2,1098.2 910.8,1094.8 911.5,1096.1 912.1,1094.2 912.8,1098.1 913.4,1093.8 914.1,1097.2 914.8,1099.1 915.4,1104.0 916.1,1104.5 916.7,1106.8 917.4,1106.3 918.0,1109.2 918.7,1106.7 919.3,1106.6 920.0,1098.6 920.6,1096.7 921.3,1094.7 921.9,1098.2 922.6,1096.4 923.3,1099.9 923.9,1096.5 924.6,1102.2 925.2,1098.0 925.9,1101.4 926.5,1098.2 927.2,1099.4 927.8,1094.6 928.5,1098.3 929.1,1096.0 929.8,1099.6 930.4,1093.9 931.1,1099.6 931.8,1098.1 932.4,1102.4 933.1,1099.6 933.7,1100.6 934.4,1098.2 935.0,1098.8 935.7,1092.3 936.3,1092.1 937.0,1087.1 937.6,1092.3 938.3,1094.1 939.0,1102.6 939.6,1101.2 940.3,1102.2 940.9,1095.5 941.6,1093.3 942.2,1088.4 942.9,1089.9 943.5,1087.3 944.2,1096.7 944.8,1094.1 945.5,1097.4 946.1,1094.5 946.8,1099.9 947.5,1098.7 948.1,1101.4 948.8,1097.2 949.4,1097.2 950.1,1093.3 950.7,1094.6 951.4,1093.6 952.0,1094.4 952.7,1094.3 953.3,1096.2 954.0,1094.9 954.7,1097.7 955.3,1098.3 956.0,1101.5 956.6,1102.1 957.3,1103.7 957.9,1097.9 958.6,1101.3 959.2,1093.6 959.9,1093.6 960.5,1092.9 961.2,1095.9 961.8,1097.4 962.5,1100.3 963.2,1099.2 963.8,1100.8 964.5,1098.5 965.1,1100.5 965.8,1097.6 966.4,1102.9 967.1,1100.6 967.7,1104.7 968.4,1104.8 969.0,1110.0 969.7,1107.0 970.4,1106.7 971.0,1100.9 971.7,1104.9 972.3,1098.3 973.0,1101.4 973.6,1100.4 974.3,1104.5 974.9,1101.2 975.6,1101.8 976.2,1098.7 976.9,1100.8 977.5,1095.4 978.2,1097.3 978.9,1092.8" fill="none" stroke="#f00" stroke-width="1.8" stroke-linejoin="round"/>
</g>
<rect x="627.2" y="978.8" width="368.4" height="203.9" fill="none" stroke="#222" stroke-width="1.3"/>
<line x1="623.2" y1="1182.7" x2="627.2" y2="1182.7" stroke="#222" stroke-width="1"/>
<text x="618.7" y="1189.1" text-anchor="end" class="tk">−4</text>
<line x1="623.2" y1="1141.9" x2="627.2" y2="1141.9" stroke="#222" stroke-width="1"/>
<text x="618.7" y="1148.3" text-anchor="end" class="tk">−2</text>
<line x1="623.2" y1="1101.1" x2="627.2" y2="1101.1" stroke="#222" stroke-width="1"/>
<text x="618.7" y="1107.5" text-anchor="end" class="tk">0</text>
<line x1="623.2" y1="1060.4" x2="627.2" y2="1060.4" stroke="#222" stroke-width="1"/>
<text x="618.7" y="1066.8" text-anchor="end" class="tk">2</text>
<line x1="623.2" y1="1019.6" x2="627.2" y2="1019.6" stroke="#222" stroke-width="1"/>
<text x="618.7" y="1026.0" text-anchor="end" class="tk">4</text>
<line x1="623.2" y1="978.8" x2="627.2" y2="978.8" stroke="#222" stroke-width="1"/>
<text x="618.7" y="985.2" text-anchor="end" class="tk">6</text>
<line x1="643.9" y1="1182.7" x2="643.9" y2="1186.7" stroke="#222" stroke-width="1"/>
<text x="643.9" y="1203.7" text-anchor="middle" class="tk">0.0</text>
<line x1="727.7" y1="1182.7" x2="727.7" y2="1186.7" stroke="#222" stroke-width="1"/>
<text x="727.7" y="1203.7" text-anchor="middle" class="tk">0.5</text>
<line x1="811.4" y1="1182.7" x2="811.4" y2="1186.7" stroke="#222" stroke-width="1"/>
<text x="811.4" y="1203.7" text-anchor="middle" class="tk">1.0</text>
<line x1="895.1" y1="1182.7" x2="895.1" y2="1186.7" stroke="#222" stroke-width="1"/>
<text x="895.1" y="1203.7" text-anchor="middle" class="tk">1.5</text>
<line x1="978.9" y1="1182.7" x2="978.9" y2="1186.7" stroke="#222" stroke-width="1"/>
<text x="978.9" y="1203.7" text-anchor="middle" class="tk">2.0</text>
<text x="811.4" y="1229.1" text-anchor="middle" class="lb">Time (s)</text>
<text transform="translate(586.0,1080.8) rotate(-90)" text-anchor="middle" class="lb2">Amplitude</text>
<text transform="translate(27.6,122.2) rotate(-90)" text-anchor="middle" class="tt">Adaptive Filter</text>
<text transform="translate(32.0,445.3) rotate(-90)" text-anchor="middle" class="tt">HHT</text>
<text transform="translate(32.0,758.2) rotate(-90)" text-anchor="middle" class="tt">EEMD-ICA</text>
<text transform="translate(28.4,1084.4) rotate(-90)" text-anchor="middle" class="tt">DeepSeparator</text>
<rect x="180.6" y="1289.5" width="754.9" height="116.9" fill="#fff" stroke="#333" stroke-width="1.3"/>
<line x1="215" y1="1324.5" x2="267" y2="1324.5" stroke="#000" stroke-width="6"/>
<line x1="529" y1="1324.5" x2="581.6" y2="1324.5" stroke="#f00" stroke-width="6"/>
<line x1="215" y1="1374" x2="267" y2="1374" stroke="#0a8585" stroke-width="6"/>
<text x="293" y="1333" class="lg">Raw EEG (Input)</text>
<text x="610" y="1333" class="lg">Denoised EEG (Output)</text>
<text x="292" y="1382.5" class="lg">Clean EEG (Ground Truth)</text>
</svg>
</body></html>
